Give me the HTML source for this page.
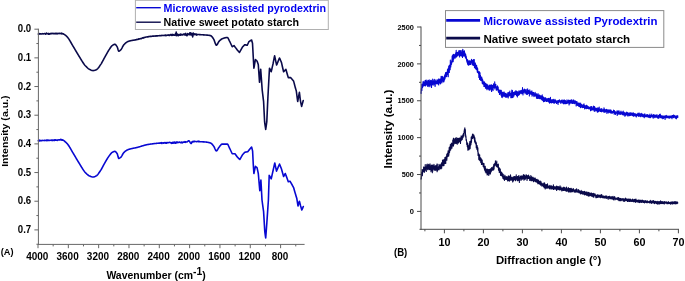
<!DOCTYPE html>
<html lang="en"><head><meta charset="utf-8"><title>FTIR and XRD of pyrodextrin and native starch</title>
<style>html,body{margin:0;padding:0;background:#fff;overflow:hidden}svg{display:block}</style></head>
<body>
<svg width="685" height="281" viewBox="0 0 685 281" font-family="'Liberation Sans', sans-serif" font-weight="bold">
<rect width="685" height="281" fill="#fff"/>
<polyline points="38.30,33.99 38.65,34.10 39.00,33.97 39.35,33.56 39.70,34.11 40.05,33.99 40.40,33.74 40.75,34.01 41.10,33.95 41.45,33.93 41.80,33.86 42.15,33.98 42.50,33.66 42.85,33.79 43.20,33.71 43.55,33.97 43.90,33.83 44.25,33.74 44.60,33.61 44.95,33.74 45.00,33.80 45.30,33.73 45.65,34.11 46.00,34.03 46.35,33.10 46.70,33.30 47.05,33.72 47.40,33.65 47.75,33.80 48.10,33.79 48.45,34.26 48.80,33.45 49.15,33.62 49.50,34.22 49.85,33.86 50.20,33.86 50.55,33.56 50.90,33.27 51.25,33.71 51.60,33.69 51.95,33.35 52.30,33.48 52.65,33.63 53.00,33.40 53.35,33.61 53.70,33.65 54.05,33.63 54.40,33.48 54.75,33.75 55.00,33.82 55.10,33.68 55.45,33.39 55.80,33.77 56.15,33.45 56.50,33.79 56.85,33.30 57.20,33.79 57.55,33.55 57.90,33.23 58.25,33.46 58.60,33.55 58.95,33.60 59.30,33.28 59.65,33.24 60.00,33.56 60.35,33.39 60.70,33.56 61.05,33.69 61.40,33.09 61.75,33.56 62.00,33.81 62.10,33.50 62.45,33.56 62.80,33.67 63.15,33.82 63.50,34.00 63.85,34.21 64.20,34.42 64.50,34.60 64.55,34.63 64.90,34.85 65.25,35.10 65.60,35.37 65.95,35.66 66.30,35.98 66.65,36.32 67.00,36.67 67.35,37.05 67.40,37.10 67.70,37.44 68.05,37.88 68.40,38.36 68.75,38.87 69.10,39.41 69.45,39.98 69.80,40.56 70.15,41.16 70.50,41.77 70.85,42.39 71.20,43.01 71.55,43.63 71.90,44.25 72.25,44.85 72.60,45.44 72.70,45.60 72.95,46.01 73.30,46.59 73.65,47.17 74.00,47.76 74.35,48.35 74.70,48.95 75.05,49.54 75.40,50.14 75.75,50.74 76.10,51.33 76.45,51.93 76.80,52.52 77.15,53.11 77.50,53.70 77.85,54.28 78.20,54.85 78.55,55.42 78.90,55.98 79.10,56.30 79.25,56.54 79.60,57.10 79.95,57.67 80.30,58.25 80.65,58.82 81.00,59.40 81.35,59.98 81.70,60.55 82.05,61.12 82.40,61.68 82.75,62.23 83.10,62.76 83.45,63.28 83.80,63.78 84.15,64.27 84.50,64.73 84.85,65.16 85.20,65.57 85.50,65.90 85.55,65.95 85.90,66.32 86.25,66.68 86.60,67.03 86.95,67.37 87.30,67.70 87.65,68.01 88.00,68.31 88.35,68.59 88.70,68.84 89.05,69.08 89.40,69.29 89.75,69.48 89.80,69.50 90.10,69.64 90.45,69.81 90.80,69.98 91.15,70.14 91.50,70.28 91.85,70.40 92.20,70.50 92.55,70.57 92.90,70.60 93.00,70.60 93.25,70.59 93.60,70.56 93.95,70.51 94.30,70.44 94.65,70.35 95.00,70.24 95.35,70.12 95.70,69.99 96.05,69.86 96.20,69.80 96.40,69.71 96.75,69.49 97.10,69.22 97.45,68.89 97.80,68.51 98.15,68.09 98.50,67.64 98.85,67.17 99.20,66.67 99.55,66.17 99.90,65.66 100.25,65.15 100.50,64.80 100.60,64.66 100.95,64.14 101.30,63.58 101.65,62.99 102.00,62.38 102.35,61.74 102.70,61.10 103.05,60.44 103.40,59.78 103.75,59.13 104.10,58.48 104.45,57.84 104.70,57.40 104.80,57.22 105.15,56.60 105.50,55.97 105.85,55.34 106.20,54.70 106.55,54.06 106.90,53.43 107.25,52.80 107.60,52.19 107.95,51.59 108.30,51.00 108.65,50.44 109.00,49.90 109.00,49.90 109.35,49.36 109.70,48.81 110.05,48.27 110.40,47.73 110.75,47.22 111.10,46.74 111.45,46.31 111.80,45.94 112.15,45.64 112.20,45.60 112.50,45.38 112.85,45.13 113.20,44.90 113.55,44.69 113.90,44.51 114.25,44.38 114.60,44.31 114.80,44.30 114.95,44.32 115.30,44.46 115.65,44.74 116.00,45.12 116.35,45.58 116.70,46.09 117.05,46.62 117.10,46.70 117.40,47.38 117.75,48.55 118.10,49.80 118.45,50.79 118.80,51.20 118.80,51.20 119.15,51.13 119.50,50.95 119.85,50.69 120.20,50.37 120.55,50.04 120.70,49.90 120.90,49.69 121.25,49.23 121.60,48.68 121.95,48.06 122.30,47.40 122.65,46.73 123.00,46.08 123.35,45.48 123.70,44.96 124.00,44.60 124.05,44.55 124.40,44.19 124.75,43.84 125.10,43.50 125.45,43.18 125.80,42.88 126.15,42.59 126.50,42.33 126.85,42.09 127.20,41.87 127.55,41.68 127.90,41.52 128.20,41.40 128.25,41.38 128.60,41.26 128.95,41.16 129.30,41.05 129.65,40.96 130.00,40.87 130.35,40.79 130.70,40.71 131.05,40.63 131.40,40.56 131.75,40.50 132.10,40.43 132.45,40.37 132.80,40.32 133.15,40.26 133.50,40.20 133.85,40.14 134.20,40.09 134.55,40.03 134.90,39.97 135.25,39.91 135.60,39.85 135.95,39.78 136.30,39.61 136.65,39.64 136.80,39.41 137.00,39.57 137.35,39.42 137.70,39.53 138.05,39.41 138.40,38.88 138.75,39.12 139.10,38.82 139.45,39.06 139.80,38.84 140.15,38.79 140.50,38.50 140.85,38.74 141.20,38.67 141.55,38.19 141.90,38.27 142.25,38.04 142.60,38.02 142.95,37.77 143.30,38.05 143.65,37.61 144.00,37.60 144.35,37.60 144.70,37.37 145.05,37.34 145.40,37.21 145.75,37.18 146.10,36.98 146.45,36.99 146.80,36.95 147.15,36.87 147.50,36.86 147.85,36.76 148.20,36.83 148.50,36.66 148.55,36.68 148.90,36.57 149.25,36.54 149.60,36.41 149.95,36.59 150.30,36.35 150.65,36.36 151.00,36.45 151.35,36.42 151.70,36.29 152.05,36.06 152.40,36.32 152.75,36.27 153.10,36.04 153.45,36.27 153.80,36.06 154.15,35.98 154.50,36.10 154.85,36.04 155.20,36.06 155.55,35.81 155.90,36.20 156.25,35.88 156.60,35.74 156.95,35.98 157.30,35.83 157.65,35.89 158.00,35.79 158.35,35.80 158.70,35.81 159.05,35.67 159.40,35.81 159.75,35.65 160.10,35.58 160.45,35.67 160.80,35.69 161.15,35.59 161.40,35.50 161.50,35.67 161.85,35.36 162.20,35.42 162.55,35.53 162.90,35.34 163.25,35.48 163.60,35.45 163.95,35.54 164.30,35.31 164.65,35.32 165.00,35.41 165.35,35.06 165.70,35.70 166.05,35.23 166.40,35.20 166.75,35.37 167.10,35.25 167.45,35.02 167.80,35.29 168.15,35.07 168.50,34.85 168.85,35.46 169.20,35.24 169.55,35.48 169.90,34.96 170.25,34.49 170.60,35.02 170.95,34.87 171.30,35.34 171.65,35.09 172.00,34.35 172.35,34.51 172.70,35.32 173.05,35.22 173.40,34.68 173.75,34.92 174.10,35.08 174.20,35.09 174.45,35.24 174.80,34.98 175.15,34.82 175.50,33.68 175.85,35.39 176.20,31.99 176.55,34.74 176.90,35.60 177.25,33.98 177.60,34.31 177.95,34.67 178.30,35.68 178.65,34.64 179.00,34.94 179.35,35.15 179.70,34.80 180.05,34.28 180.40,34.00 180.75,35.30 181.10,34.53 181.45,34.29 181.80,34.60 182.15,34.45 182.50,34.86 182.85,34.52 183.20,34.49 183.55,34.19 183.90,34.65 184.25,34.03 184.60,34.70 184.95,35.03 185.30,33.80 185.65,33.41 186.00,34.63 186.35,35.39 186.70,34.56 187.05,35.63 187.40,34.77 187.75,33.47 188.10,34.02 188.45,34.12 188.80,34.63 189.15,34.13 189.50,34.58 189.85,32.73 190.20,34.71 190.55,33.66 190.90,32.86 191.20,34.88 191.25,35.04 191.60,34.31 191.95,35.03 192.30,33.45 192.65,36.87 193.00,35.31 193.35,33.13 193.70,34.24 194.05,34.51 194.40,34.47 194.75,33.90 195.10,34.71 195.45,34.15 195.80,33.98 196.15,34.06 196.50,34.28 196.85,35.10 197.20,34.47 197.55,34.49 197.90,34.51 198.25,34.53 198.60,34.55 198.95,34.57 199.30,34.59 199.65,34.61 200.00,34.63 200.35,34.65 200.70,34.68 201.05,34.70 201.40,34.72 201.75,34.75 202.10,34.77 202.45,34.79 202.80,34.82 203.15,34.84 203.50,34.87 203.85,34.89 204.00,34.90 204.20,34.91 204.55,34.94 204.90,34.96 205.25,34.98 205.60,35.00 205.95,35.03 206.30,35.05 206.65,35.08 207.00,35.11 207.35,35.14 207.70,35.17 208.05,35.21 208.40,35.25 208.75,35.30 209.10,35.35 209.45,35.40 209.80,35.46 210.15,35.53 210.50,35.60 210.50,35.60 210.85,35.73 211.20,35.95 211.55,36.26 211.90,36.64 212.25,37.08 212.60,37.56 212.95,38.07 213.30,38.59 213.65,39.12 213.70,39.20 214.00,39.76 214.35,40.64 214.70,41.66 215.05,42.71 215.40,43.69 215.75,44.50 216.10,45.04 216.40,45.20 216.45,45.20 216.80,45.01 217.15,44.60 217.50,44.02 217.85,43.35 218.20,42.66 218.55,42.03 218.90,41.51 219.00,41.40 219.25,41.14 219.60,40.78 219.95,40.43 220.30,40.10 220.65,39.79 221.00,39.51 221.35,39.26 221.70,39.04 222.05,38.86 222.20,38.80 222.40,38.72 222.75,38.59 223.10,38.46 223.45,38.33 223.80,38.21 224.15,38.09 224.50,37.99 224.85,37.89 225.20,37.80 225.55,37.72 225.90,37.65 226.25,37.61 226.60,37.57 226.95,37.54 227.30,37.52 227.50,37.50 227.65,37.62 228.00,38.09 228.35,38.73 228.70,39.44 229.05,40.16 229.40,40.85 229.70,41.40 229.75,41.51 230.10,42.25 230.45,43.01 230.80,43.77 231.15,44.53 231.50,45.28 231.85,46.00 232.20,46.70 232.20,46.70 232.55,46.49 232.90,46.28 233.25,46.05 233.60,45.84 233.95,45.63 234.00,45.60 234.30,45.98 234.65,46.43 235.00,46.90 235.35,47.37 235.70,47.85 236.05,48.33 236.40,48.81 236.75,49.29 237.10,49.77 237.20,49.90 237.45,50.18 237.80,50.57 238.15,50.96 238.50,51.34 238.85,51.72 239.20,52.09 239.50,52.40 239.55,52.32 239.90,51.72 240.25,51.10 240.60,50.47 240.95,49.83 241.30,49.18 241.65,48.54 242.00,47.90 242.35,47.27 242.50,47.00 242.70,46.80 243.05,46.44 243.40,46.08 243.75,45.72 244.10,45.37 244.45,45.03 244.80,44.70 244.80,44.70 245.15,44.78 245.50,44.87 245.85,44.96 246.20,45.05 246.55,45.14 246.90,45.23 247.20,45.30 247.25,45.20 247.60,44.49 247.95,43.74 248.30,42.97 248.65,42.22 248.90,41.70 249.00,41.63 249.35,41.40 249.70,41.18 250.05,40.95 250.40,40.73 250.75,40.51 251.10,40.30 251.45,40.09 251.60,40.00 251.80,40.67 252.15,41.91 252.50,43.20 252.50,43.20 252.85,49.52 253.20,56.00 253.20,56.00 253.55,62.22 253.90,68.20 253.90,68.20 254.25,66.26 254.60,64.20 254.95,62.12 255.30,60.14 255.40,59.60 255.65,59.81 256.00,60.10 256.35,60.41 256.70,60.73 257.00,61.00 257.05,61.14 257.40,62.10 257.75,63.09 258.10,64.11 258.30,64.70 258.45,66.83 258.80,72.04 259.15,77.32 259.50,82.30 259.50,82.30 259.85,78.63 260.20,74.73 260.55,70.93 260.70,69.40 260.90,71.99 261.25,76.75 261.60,81.66 261.95,86.58 262.20,90.00 262.30,90.85 262.65,93.76 263.00,96.65 263.35,99.57 263.60,101.70 263.70,103.66 264.05,110.70 264.40,117.78 264.60,121.70 264.75,122.79 265.10,125.31 265.45,127.75 265.70,129.40 265.80,128.75 266.15,126.37 266.50,123.88 266.80,121.70 266.85,120.63 267.20,112.91 267.55,105.04 267.70,101.70 267.90,97.79 268.25,90.97 268.30,90.00 268.60,84.46 268.95,77.95 269.30,71.63 269.50,68.20 269.65,68.49 270.00,69.21 270.35,69.95 270.70,70.69 271.05,71.41 271.20,71.70 271.40,70.90 271.75,69.44 272.10,67.93 272.45,66.40 272.80,64.87 273.00,64.00 273.15,63.23 273.50,61.40 273.85,59.56 274.20,57.76 274.55,56.04 274.60,55.80 274.90,57.11 275.25,58.73 275.60,60.40 275.95,62.07 276.30,63.69 276.60,65.00 276.65,64.89 277.00,64.08 277.35,63.24 277.70,62.38 278.05,61.50 278.40,60.62 278.75,59.76 279.10,58.92 279.45,58.11 279.50,58.00 279.80,58.64 280.15,59.41 280.50,60.21 280.85,61.02 281.20,61.84 281.40,62.30 281.55,62.93 281.90,64.43 282.25,65.97 282.60,67.50 282.95,69.02 283.30,70.49 283.60,71.70 283.65,71.65 284.00,71.32 284.35,70.96 284.70,70.60 285.05,70.24 285.40,69.88 285.75,69.54 285.90,69.40 286.10,70.04 286.45,71.22 286.80,72.44 287.15,73.68 287.50,74.92 287.85,76.12 288.20,77.28 288.30,77.60 288.55,77.60 288.90,77.60 289.25,77.60 289.60,77.60 289.95,77.60 290.30,77.60 290.60,77.60 290.65,77.65 291.00,78.04 291.35,78.43 291.70,78.83 292.05,79.23 292.40,79.65 292.75,80.07 293.10,80.49 293.45,80.92 293.60,81.10 293.80,81.84 294.15,83.17 294.50,84.51 294.85,85.87 295.20,87.22 295.30,87.60 295.55,88.45 295.90,89.63 296.25,90.83 296.30,91.00 296.60,93.24 296.95,95.93 297.30,98.60 297.65,101.15 297.70,101.50 298.00,99.96 298.35,98.06 298.70,96.12 299.05,94.20 299.40,92.40 299.40,92.40 299.75,95.19 300.10,98.12 300.40,100.60 300.45,100.85 300.80,102.59 301.15,104.30 301.50,105.95 301.60,106.40 301.85,105.56 302.20,104.35 302.55,103.09 302.90,101.78 303.20,100.60" fill="none" stroke="#0a0a4a" stroke-width="1.6" stroke-linejoin="round" stroke-linecap="round"/>
<polyline points="38.30,140.74 38.65,140.58 39.00,140.58 39.35,140.16 39.70,140.99 40.05,140.84 40.40,140.53 40.75,140.73 41.10,140.62 41.45,140.44 41.80,140.73 42.15,140.45 42.50,140.43 42.85,140.33 43.20,140.56 43.55,140.44 43.90,140.55 44.25,140.31 44.60,140.44 44.95,140.22 45.00,140.57 45.30,140.43 45.65,140.44 46.00,140.45 46.35,140.15 46.70,140.50 47.05,140.74 47.40,139.99 47.75,139.97 48.10,140.00 48.45,140.46 48.80,140.31 49.15,140.49 49.50,140.41 49.85,140.30 50.20,140.30 50.55,140.20 50.90,140.40 51.25,139.99 51.60,140.12 51.95,140.24 52.30,140.55 52.65,140.02 53.00,139.95 53.35,140.04 53.70,140.34 54.05,140.09 54.40,140.39 54.75,139.73 55.00,140.33 55.10,140.30 55.45,139.80 55.80,140.10 56.15,140.29 56.50,140.05 56.85,140.21 57.20,140.47 57.55,140.03 57.90,139.90 58.25,139.78 58.60,140.04 58.95,139.86 59.30,139.84 59.65,139.84 60.00,139.97 60.35,139.62 60.70,139.51 61.05,139.32 61.40,140.04 61.75,139.82 62.00,140.10 62.10,139.80 62.45,139.87 62.80,140.02 63.15,140.22 63.50,140.46 63.85,140.72 64.20,140.98 64.50,141.20 64.55,141.23 64.90,141.49 65.25,141.77 65.60,142.07 65.95,142.39 66.30,142.72 66.65,143.08 67.00,143.45 67.35,143.84 67.40,143.90 67.70,144.26 68.05,144.71 68.40,145.20 68.75,145.72 69.10,146.26 69.45,146.82 69.80,147.40 70.15,148.00 70.50,148.60 70.85,149.22 71.20,149.83 71.55,150.44 71.90,151.05 72.25,151.65 72.60,152.24 72.70,152.40 72.95,152.81 73.30,153.39 73.65,153.97 74.00,154.56 74.35,155.15 74.70,155.75 75.05,156.34 75.40,156.94 75.75,157.54 76.10,158.13 76.45,158.73 76.80,159.32 77.15,159.91 77.50,160.50 77.85,161.08 78.20,161.65 78.55,162.22 78.90,162.78 79.10,163.10 79.25,163.34 79.60,163.90 79.95,164.47 80.30,165.05 80.65,165.64 81.00,166.22 81.35,166.80 81.70,167.38 82.05,167.95 82.40,168.51 82.75,169.06 83.10,169.60 83.45,170.12 83.80,170.62 84.15,171.10 84.50,171.56 84.85,171.98 85.20,172.38 85.50,172.70 85.55,172.75 85.90,173.10 86.25,173.45 86.60,173.79 86.95,174.11 87.30,174.43 87.65,174.73 88.00,175.01 88.35,175.27 88.70,175.51 89.05,175.73 89.40,175.92 89.75,176.08 89.80,176.10 90.10,176.22 90.45,176.36 90.80,176.50 91.15,176.63 91.50,176.74 91.85,176.84 92.20,176.92 92.55,176.97 92.90,177.00 93.00,177.00 93.25,176.99 93.60,176.95 93.95,176.87 94.30,176.77 94.65,176.64 95.00,176.49 95.35,176.33 95.70,176.16 96.05,175.98 96.20,175.90 96.40,175.78 96.75,175.53 97.10,175.22 97.45,174.86 97.80,174.46 98.15,174.02 98.50,173.55 98.85,173.05 99.20,172.54 99.55,172.02 99.90,171.49 100.25,170.97 100.50,170.60 100.60,170.45 100.95,169.91 101.30,169.33 101.65,168.73 102.00,168.10 102.35,167.45 102.70,166.79 103.05,166.12 103.40,165.46 103.75,164.80 104.10,164.16 104.45,163.53 104.70,163.10 104.80,162.93 105.15,162.33 105.50,161.72 105.85,161.12 106.20,160.51 106.55,159.91 106.90,159.32 107.25,158.74 107.60,158.17 107.95,157.62 108.30,157.09 108.65,156.58 109.00,156.10 109.00,156.10 109.35,155.62 109.70,155.14 110.05,154.66 110.40,154.20 110.75,153.75 111.10,153.35 111.45,152.98 111.80,152.67 112.15,152.43 112.20,152.40 112.50,152.23 112.85,152.04 113.20,151.86 113.55,151.69 113.90,151.56 114.25,151.46 114.60,151.41 114.80,151.40 114.95,151.41 115.30,151.53 115.65,151.77 116.00,152.09 116.35,152.49 116.70,152.94 117.05,153.43 117.10,153.50 117.40,154.19 117.75,155.45 118.10,156.83 118.45,157.94 118.80,158.40 118.80,158.40 119.15,158.34 119.50,158.19 119.85,157.97 120.20,157.71 120.55,157.42 120.70,157.30 120.90,157.12 121.25,156.70 121.60,156.19 121.95,155.61 122.30,154.99 122.65,154.37 123.00,153.76 123.35,153.20 123.70,152.73 124.00,152.40 124.05,152.35 124.40,152.04 124.75,151.73 125.10,151.44 125.45,151.17 125.80,150.92 126.15,150.67 126.50,150.45 126.85,150.24 127.20,150.05 127.55,149.88 127.90,149.72 128.20,149.60 128.25,149.58 128.60,149.45 128.95,149.33 129.30,149.22 129.65,149.11 130.00,149.01 130.35,148.92 130.70,148.83 131.05,148.74 131.40,148.66 131.75,148.58 132.10,148.50 132.45,148.43 132.80,148.35 133.15,148.28 133.50,148.21 133.85,148.14 134.20,148.07 134.55,148.00 134.90,147.93 135.25,147.86 135.60,147.78 135.95,147.70 136.30,147.62 136.65,147.54 136.80,147.50 137.00,147.45 137.35,147.36 137.70,147.26 138.05,147.17 138.40,147.07 138.75,146.97 139.10,146.87 139.45,146.76 139.80,146.66 140.15,146.56 140.50,146.45 140.85,146.35 141.20,146.24 141.55,146.13 141.90,146.03 142.25,145.92 142.60,145.82 142.95,145.72 143.30,145.62 143.65,145.52 144.00,145.42 144.35,145.32 144.70,145.23 145.05,145.13 145.40,145.04 145.75,144.96 146.10,144.87 146.45,144.79 146.80,144.72 147.15,144.64 147.50,144.57 147.85,144.51 148.20,144.45 148.50,144.40 148.55,144.39 148.90,144.34 149.25,144.29 149.60,144.23 149.95,144.18 150.30,144.13 150.65,144.08 151.00,144.03 151.35,143.98 151.70,143.93 152.05,143.89 152.40,143.84 152.75,143.79 153.10,143.75 153.45,143.71 153.80,143.66 154.15,143.62 154.50,143.58 154.85,143.54 155.20,143.50 155.55,143.46 155.90,143.43 156.25,143.39 156.60,143.36 156.95,143.32 157.30,143.29 157.65,143.26 158.00,143.23 158.35,143.20 158.70,143.17 159.05,143.14 159.40,143.12 159.75,143.10 160.10,143.07 160.45,142.83 160.80,143.17 161.15,142.99 161.40,142.62 161.50,142.73 161.85,143.51 162.20,143.07 162.55,143.07 162.90,142.85 163.25,142.71 163.60,143.18 163.95,142.86 164.30,142.66 164.65,142.83 165.00,142.59 165.35,142.91 165.70,143.18 166.05,142.58 166.40,143.25 166.75,142.61 167.10,142.85 167.45,142.54 167.80,142.72 168.15,142.79 168.50,142.64 168.85,142.55 169.20,142.55 169.55,142.50 169.90,142.26 170.25,142.65 170.60,142.84 170.95,142.98 171.30,142.89 171.65,143.42 172.00,142.77 172.35,142.53 172.70,143.22 173.05,142.33 173.40,142.92 173.75,142.33 174.10,143.09 174.20,142.28 174.45,142.95 174.80,142.13 175.15,142.40 175.50,143.20 175.85,142.42 176.20,142.96 176.55,142.50 176.90,141.71 177.25,142.45 177.60,142.71 177.95,142.72 178.30,142.27 178.65,142.30 179.00,142.29 179.35,142.03 179.70,142.25 180.05,142.39 180.40,142.61 180.75,142.78 181.10,142.13 181.45,142.52 181.80,142.21 182.15,142.95 182.50,142.29 182.85,142.43 183.20,141.98 183.55,141.99 183.90,142.27 184.25,142.07 184.60,142.26 184.95,141.66 185.30,142.29 185.65,141.79 186.00,142.02 186.35,141.98 186.70,141.94 187.00,141.90 187.05,141.89 187.40,141.70 187.75,141.37 188.10,141.03 188.45,140.77 188.70,140.70 188.80,140.71 189.15,140.94 189.50,141.38 189.85,141.93 190.20,142.51 190.55,143.03 190.90,143.39 191.20,143.50 191.25,143.49 191.60,142.90 191.95,141.98 192.30,141.50 192.30,141.50 192.65,141.50 193.00,141.85 193.35,141.45 193.70,141.73 194.05,141.23 194.40,141.60 194.75,141.34 195.10,141.43 195.45,141.54 195.80,141.48 196.15,141.60 196.50,141.71 196.85,141.70 197.20,141.56 197.55,141.32 197.90,141.44 198.25,141.58 198.60,141.20 198.95,141.79 199.30,141.61 199.65,141.62 200.00,141.69 200.35,141.70 200.70,141.72 201.05,141.74 201.40,141.75 201.75,141.77 202.10,141.79 202.45,141.81 202.80,141.83 203.15,141.85 203.50,141.87 203.85,141.89 204.00,141.90 204.20,141.91 204.55,141.94 204.90,141.96 205.25,141.99 205.60,142.03 205.95,142.07 206.30,142.11 206.65,142.15 207.00,142.20 207.35,142.26 207.70,142.32 208.05,142.38 208.40,142.45 208.75,142.53 209.10,142.61 209.45,142.70 209.80,142.79 210.15,142.89 210.50,143.00 210.50,143.00 210.85,143.15 211.20,143.37 211.55,143.66 211.90,144.00 212.25,144.38 212.60,144.80 212.95,145.23 213.30,145.68 213.65,146.14 213.70,146.20 214.00,146.66 214.35,147.37 214.70,148.16 215.05,148.98 215.40,149.74 215.75,150.37 216.10,150.78 216.40,150.90 216.45,150.90 216.80,150.73 217.15,150.35 217.50,149.83 217.85,149.21 218.20,148.56 218.55,147.95 218.90,147.42 219.00,147.30 219.25,147.00 219.60,146.54 219.95,146.07 220.30,145.61 220.65,145.17 221.00,144.78 221.35,144.46 221.70,144.23 222.05,144.11 222.20,144.10 222.40,144.10 222.75,144.10 223.10,144.10 223.45,144.10 223.80,144.10 224.15,144.10 224.50,144.10 224.85,144.10 225.20,144.10 225.55,144.10 225.90,144.10 226.25,144.10 226.60,144.10 226.95,144.10 227.30,144.10 227.50,144.10 227.65,144.23 228.00,144.76 228.35,145.47 228.70,146.25 229.05,147.04 229.40,147.79 229.70,148.40 229.75,148.51 230.10,149.26 230.45,150.01 230.80,150.78 231.15,151.53 231.50,152.28 231.85,153.00 232.20,153.70 232.20,153.70 232.55,153.70 232.90,153.70 233.25,153.70 233.60,153.70 233.95,153.70 234.30,153.70 234.65,153.70 235.00,153.70 235.00,153.70 235.35,154.18 235.70,154.68 236.05,155.20 236.40,155.72 236.75,156.24 237.10,156.76 237.20,156.90 237.45,157.15 237.80,157.51 238.15,157.87 238.50,158.23 238.85,158.58 239.20,158.93 239.55,159.27 239.80,159.50 239.90,159.34 240.25,158.76 240.60,158.16 240.95,157.54 241.30,156.92 241.65,156.29 242.00,155.67 242.35,155.06 242.50,154.80 242.70,154.58 243.05,154.19 243.40,153.80 243.75,153.42 244.10,153.04 244.45,152.66 244.80,152.30 244.80,152.30 245.15,152.22 245.50,152.15 245.85,152.08 246.20,152.01 246.55,151.94 246.90,151.87 247.25,151.80 247.60,151.72 247.70,151.70 247.95,151.41 248.30,150.98 248.65,150.55 249.00,150.12 249.35,149.68 249.50,149.50 249.70,149.26 250.05,148.83 250.40,148.41 250.75,147.98 251.10,147.57 251.45,147.17 251.60,147.00 251.80,147.75 252.15,149.13 252.50,150.58 252.60,151.00 252.85,155.93 253.20,163.00 253.20,163.00 253.55,168.37 253.90,173.50 253.90,173.50 254.25,171.90 254.60,170.20 254.95,168.48 255.30,166.84 255.40,166.40 255.65,166.58 256.00,166.83 256.35,167.09 256.70,167.36 257.00,167.60 257.05,167.81 257.40,169.35 257.75,170.94 258.10,172.56 258.30,173.50 258.45,175.17 258.80,179.21 259.15,183.32 259.50,187.34 259.80,190.60 259.85,190.15 260.20,186.80 260.55,183.31 260.90,180.00 260.90,180.00 261.25,186.17 261.60,192.69 261.95,199.11 262.00,200.00 262.30,202.24 262.65,204.78 263.00,207.29 263.35,209.84 263.60,211.70 263.70,213.33 264.05,219.17 264.40,225.09 264.75,230.89 264.80,231.70 265.10,233.87 265.45,236.33 265.70,238.00 265.80,236.77 266.15,232.24 266.50,227.53 266.80,223.50 266.85,222.77 267.20,217.64 267.55,212.51 267.90,207.37 268.00,205.90 268.25,202.23 268.40,200.00 268.60,193.84 268.95,182.78 269.20,175.30 269.30,175.46 269.65,176.06 270.00,176.69 270.35,177.32 270.70,177.95 271.05,178.55 271.20,178.80 271.40,177.98 271.75,176.48 272.10,174.94 272.45,173.36 272.80,171.78 273.15,170.22 273.20,170.00 273.50,168.67 273.85,167.10 274.20,165.54 274.55,164.03 274.80,163.00 274.90,163.44 275.25,165.08 275.60,166.80 275.95,168.53 276.30,170.20 276.50,171.10 276.65,170.77 277.00,169.99 277.35,169.17 277.70,168.33 278.05,167.48 278.40,166.63 278.75,165.80 279.10,164.99 279.45,164.21 279.50,164.10 279.80,164.79 280.15,165.63 280.50,166.49 280.85,167.37 281.20,168.25 281.50,169.00 281.55,169.18 281.90,170.43 282.25,171.71 282.60,172.99 282.95,174.26 283.30,175.49 283.60,176.50 283.65,176.42 284.00,175.82 284.35,175.18 284.70,174.54 285.05,173.92 285.30,173.50 285.40,173.75 285.75,174.67 286.10,175.63 286.45,176.61 286.80,177.60 287.15,178.59 287.50,179.57 287.85,180.53 288.20,181.45 288.30,181.70 288.55,181.63 288.90,181.53 289.25,181.42 289.60,181.31 289.95,181.21 290.00,181.20 290.30,181.70 290.65,182.29 291.00,182.89 291.35,183.51 291.70,184.13 292.05,184.76 292.40,185.40 292.75,186.04 293.10,186.68 293.45,187.33 293.60,187.60 293.80,188.28 294.15,189.49 294.50,190.71 294.85,191.93 295.20,193.15 295.30,193.50 295.55,194.33 295.90,195.49 296.25,196.65 296.60,197.82 296.80,198.50 296.95,199.42 297.30,201.62 297.65,203.82 298.00,205.90 298.00,205.90 298.35,204.76 298.70,203.55 299.05,202.34 299.40,201.20 299.40,201.20 299.75,202.52 300.10,203.91 300.45,205.31 300.60,205.90 300.80,206.59 301.15,207.82 301.50,209.02 301.80,210.00 301.85,209.89 302.20,209.13 302.55,208.33 302.90,207.50 303.25,206.63 303.30,206.50" fill="none" stroke="#0808d2" stroke-width="1.6" stroke-linejoin="round" stroke-linecap="round"/>
<polyline points="421.00,91.66 421.09,93.57 421.18,92.79 421.27,89.08 421.36,89.01 421.45,88.15 421.54,89.79 421.63,88.29 421.72,89.45 421.81,84.35 421.90,90.37 421.99,87.02 422.08,88.20 422.17,86.45 422.26,85.79 422.35,87.14 422.44,87.63 422.53,85.58 422.62,85.51 422.71,86.91 422.80,83.89 422.89,82.56 422.98,85.94 423.07,83.84 423.16,81.41 423.25,83.31 423.34,83.82 423.43,82.37 423.52,81.70 423.61,84.41 423.70,85.88 423.79,83.71 423.88,82.68 423.97,84.67 424.06,85.20 424.15,83.27 424.24,84.76 424.33,85.62 424.42,83.28 424.51,82.13 424.60,84.24 424.69,84.03 424.78,85.57 424.87,81.19 424.96,82.31 425.05,81.97 425.14,80.31 425.23,83.70 425.32,84.42 425.41,82.09 425.50,85.96 425.59,84.91 425.68,84.54 425.77,84.12 425.86,85.12 425.95,80.92 426.04,84.47 426.13,84.43 426.22,80.10 426.31,83.94 426.40,82.84 426.49,84.72 426.58,82.48 426.67,83.24 426.76,83.89 426.85,81.66 426.94,84.34 427.03,83.05 427.12,84.13 427.21,82.27 427.30,85.19 427.39,84.31 427.48,82.87 427.57,84.34 427.66,85.48 427.75,86.44 427.84,80.31 427.93,84.77 428.02,84.00 428.11,82.98 428.20,81.32 428.29,85.42 428.38,80.84 428.47,84.15 428.56,85.48 428.65,80.21 428.74,82.56 428.83,80.73 428.92,83.54 429.01,85.83 429.10,86.75 429.19,79.85 429.28,82.02 429.37,84.33 429.46,85.91 429.55,83.80 429.64,81.68 429.73,83.56 429.82,82.99 429.91,82.64 430.00,81.67 430.09,83.69 430.18,83.54 430.27,82.81 430.36,82.56 430.45,80.64 430.54,82.07 430.63,85.12 430.72,82.59 430.81,80.33 430.90,85.32 430.99,83.87 431.08,86.70 431.17,83.01 431.26,82.06 431.35,80.27 431.44,85.26 431.53,87.49 431.62,81.38 431.71,81.69 431.80,83.92 431.89,81.35 431.98,82.35 432.07,82.20 432.16,83.17 432.25,84.78 432.34,82.85 432.43,84.45 432.52,82.04 432.61,83.38 432.70,78.94 432.79,80.17 432.88,84.20 432.97,81.70 433.06,83.79 433.15,83.72 433.24,85.11 433.33,84.19 433.42,84.55 433.51,82.52 433.60,81.46 433.69,81.40 433.78,81.82 433.87,80.67 433.96,81.70 434.05,82.51 434.14,83.12 434.23,82.05 434.32,79.21 434.41,82.51 434.50,83.04 434.59,84.56 434.68,83.65 434.77,81.46 434.86,81.31 434.95,86.18 435.04,83.93 435.13,85.84 435.22,86.36 435.31,81.09 435.40,83.22 435.49,83.34 435.58,83.51 435.67,83.47 435.76,82.85 435.85,82.79 435.94,79.79 436.03,82.16 436.12,81.11 436.21,82.65 436.30,81.58 436.39,83.50 436.48,83.84 436.57,82.92 436.66,82.92 436.75,82.50 436.84,81.52 436.93,82.01 437.02,81.40 437.11,82.95 437.20,82.26 437.29,83.24 437.38,79.83 437.47,83.74 437.56,80.79 437.65,80.81 437.74,81.73 437.83,81.06 437.92,82.54 438.01,80.98 438.10,80.07 438.19,80.44 438.28,84.22 438.37,81.94 438.46,79.77 438.55,81.81 438.64,79.01 438.73,84.89 438.82,78.99 438.91,82.49 439.00,82.57 439.09,79.01 439.18,82.06 439.27,83.24 439.36,82.27 439.45,81.86 439.54,83.03 439.63,81.59 439.72,81.86 439.81,80.99 439.90,82.28 439.99,79.46 440.08,82.47 440.17,80.13 440.26,79.05 440.35,81.57 440.44,83.85 440.53,82.51 440.62,79.86 440.71,81.94 440.80,79.86 440.89,80.39 440.98,80.71 441.07,76.42 441.16,80.77 441.25,78.57 441.34,79.10 441.43,77.68 441.52,77.54 441.61,78.49 441.70,81.53 441.79,82.94 441.88,79.92 441.97,81.81 442.06,79.37 442.15,76.42 442.24,79.97 442.33,80.42 442.42,78.83 442.51,80.04 442.60,80.45 442.69,77.87 442.78,76.73 442.87,78.86 442.96,78.81 443.05,78.48 443.14,80.74 443.23,81.95 443.32,78.12 443.41,79.98 443.50,80.31 443.59,79.82 443.68,80.30 443.77,77.69 443.86,79.56 443.95,81.69 444.04,79.45 444.13,76.85 444.22,78.88 444.31,79.90 444.40,78.22 444.49,76.47 444.58,80.01 444.67,75.03 444.76,77.94 444.85,76.91 444.94,74.73 445.03,78.78 445.12,77.13 445.21,74.36 445.30,77.29 445.39,75.35 445.48,72.65 445.57,74.61 445.66,76.11 445.75,76.61 445.84,75.64 445.93,75.28 446.02,75.86 446.11,74.52 446.20,76.77 446.29,74.83 446.38,74.92 446.47,75.19 446.56,72.26 446.65,72.71 446.74,76.42 446.83,74.19 446.92,72.96 447.01,73.87 447.10,72.28 447.19,73.42 447.28,71.61 447.37,73.05 447.46,69.66 447.55,74.48 447.64,71.09 447.73,69.04 447.82,71.17 447.91,70.70 448.00,71.38 448.09,68.92 448.18,71.35 448.27,76.68 448.36,68.00 448.45,70.54 448.54,69.19 448.63,69.81 448.72,66.12 448.81,67.01 448.90,69.53 448.99,68.43 449.08,71.05 449.17,66.78 449.26,68.04 449.35,72.49 449.44,65.92 449.53,65.43 449.62,66.67 449.71,66.41 449.80,67.68 449.89,66.21 449.98,64.45 450.07,65.86 450.16,69.78 450.25,67.20 450.34,60.02 450.43,64.31 450.52,62.82 450.61,65.16 450.70,63.57 450.79,66.96 450.88,65.03 450.97,64.75 451.06,63.34 451.15,62.75 451.24,63.21 451.33,64.65 451.42,63.16 451.51,61.46 451.60,64.04 451.69,62.00 451.78,61.35 451.87,59.93 451.96,60.12 452.05,59.81 452.14,55.94 452.23,62.24 452.32,61.27 452.41,59.75 452.50,61.70 452.59,60.47 452.68,60.16 452.77,55.13 452.86,58.75 452.95,59.87 453.04,61.51 453.13,61.72 453.22,60.83 453.31,56.25 453.40,54.31 453.49,58.83 453.58,57.74 453.67,59.15 453.76,57.13 453.85,57.55 453.94,54.47 454.03,57.62 454.12,55.95 454.21,57.14 454.30,57.18 454.39,56.06 454.48,56.66 454.57,55.96 454.66,57.14 454.75,56.58 454.84,54.68 454.93,54.49 455.02,58.33 455.11,55.10 455.20,56.85 455.29,55.74 455.38,54.04 455.47,53.64 455.56,55.03 455.65,55.19 455.74,55.73 455.83,52.48 455.92,53.55 456.01,54.32 456.10,57.12 456.19,50.37 456.28,55.02 456.37,53.31 456.46,54.88 456.55,53.26 456.64,54.64 456.73,56.60 456.82,54.51 456.91,54.58 457.00,54.43 457.09,52.48 457.18,54.61 457.27,53.30 457.36,52.24 457.45,53.49 457.54,53.14 457.63,54.75 457.72,53.38 457.81,52.53 457.90,55.83 457.99,55.02 458.08,55.47 458.17,54.35 458.26,53.13 458.35,52.60 458.44,52.83 458.53,54.89 458.62,53.49 458.71,50.82 458.80,53.24 458.89,50.93 458.98,53.58 459.07,51.30 459.16,51.20 459.25,53.51 459.34,53.19 459.43,50.55 459.52,54.58 459.61,56.94 459.70,50.86 459.79,56.38 459.88,52.20 459.97,52.52 460.06,53.05 460.15,50.95 460.24,55.53 460.33,54.19 460.42,52.12 460.51,52.92 460.60,50.86 460.69,52.81 460.78,54.95 460.87,50.54 460.96,52.68 461.05,53.65 461.14,55.16 461.23,55.66 461.32,52.66 461.41,52.20 461.50,54.18 461.59,52.83 461.68,52.92 461.77,55.24 461.86,56.25 461.95,53.89 462.04,53.14 462.13,54.41 462.22,50.34 462.31,53.45 462.40,51.72 462.49,57.45 462.58,54.69 462.67,53.74 462.76,53.19 462.85,49.36 462.94,54.71 463.03,56.23 463.12,52.34 463.21,54.69 463.30,54.77 463.39,51.03 463.48,55.14 463.57,55.85 463.66,54.02 463.75,53.57 463.84,55.02 463.93,51.24 464.02,53.99 464.11,55.65 464.20,51.94 464.29,55.71 464.38,53.48 464.47,50.83 464.56,54.19 464.65,52.87 464.74,55.11 464.83,52.77 464.92,56.54 465.01,53.72 465.10,55.65 465.19,54.21 465.28,54.79 465.37,57.45 465.46,56.04 465.55,55.25 465.64,54.08 465.73,58.30 465.82,57.87 465.91,56.42 466.00,57.65 466.09,55.87 466.18,56.20 466.27,56.83 466.36,59.07 466.45,59.29 466.54,57.89 466.63,60.62 466.72,60.99 466.81,60.27 466.90,61.95 466.99,60.03 467.08,60.55 467.17,61.71 467.26,61.07 467.35,62.62 467.44,59.47 467.53,64.05 467.62,60.65 467.71,61.85 467.80,60.06 467.89,63.47 467.98,64.74 468.07,64.56 468.16,64.32 468.25,60.54 468.34,61.90 468.43,62.49 468.52,61.77 468.61,65.13 468.70,63.60 468.79,63.25 468.88,64.06 468.97,61.70 469.06,61.74 469.15,61.75 469.24,63.96 469.33,63.66 469.42,64.00 469.51,64.76 469.60,60.76 469.69,62.00 469.78,63.09 469.87,60.61 469.96,61.88 470.05,64.33 470.14,64.41 470.23,64.31 470.32,62.58 470.41,62.11 470.50,64.14 470.59,61.74 470.68,62.84 470.77,64.39 470.86,61.60 470.95,61.17 471.04,62.10 471.13,63.05 471.22,62.84 471.31,62.29 471.40,62.91 471.49,59.42 471.58,60.61 471.67,62.27 471.76,60.51 471.85,59.86 471.94,60.10 472.03,60.59 472.12,61.82 472.21,60.50 472.30,62.56 472.39,64.96 472.48,62.04 472.57,64.39 472.66,62.85 472.75,60.65 472.84,62.10 472.93,61.00 473.02,63.87 473.11,60.85 473.20,64.90 473.29,63.77 473.38,59.66 473.47,64.24 473.56,65.54 473.65,61.85 473.74,64.78 473.83,60.40 473.92,63.78 474.01,60.81 474.10,64.34 474.19,60.81 474.28,59.57 474.37,64.53 474.46,67.67 474.55,63.18 474.64,65.59 474.73,64.56 474.82,64.00 474.91,65.64 475.00,67.42 475.09,62.96 475.18,65.98 475.27,65.77 475.36,63.10 475.45,68.10 475.54,68.78 475.63,64.31 475.72,68.75 475.81,66.23 475.90,66.04 475.99,68.86 476.08,67.00 476.17,67.33 476.26,69.43 476.35,69.26 476.44,68.83 476.53,65.40 476.62,65.34 476.71,69.86 476.80,66.82 476.89,68.77 476.98,67.07 477.07,68.72 477.16,67.23 477.25,72.10 477.34,68.15 477.43,69.82 477.52,69.98 477.61,72.44 477.70,68.54 477.79,70.99 477.88,70.97 477.97,72.40 478.06,72.56 478.15,71.34 478.24,72.70 478.33,71.98 478.42,73.56 478.51,72.90 478.60,72.26 478.69,73.49 478.78,74.34 478.87,77.57 478.96,73.43 479.05,74.90 479.14,76.94 479.23,71.56 479.32,72.31 479.41,73.40 479.50,75.31 479.59,79.55 479.68,76.53 479.77,78.03 479.86,75.98 479.95,72.66 480.04,73.10 480.13,78.55 480.22,77.44 480.31,75.31 480.40,79.30 480.49,75.32 480.58,79.71 480.67,80.39 480.76,77.09 480.85,76.73 480.94,79.96 481.03,77.08 481.12,80.32 481.21,77.24 481.30,80.53 481.39,79.56 481.48,78.88 481.57,78.29 481.66,80.21 481.75,77.00 481.84,79.67 481.93,79.61 482.02,81.42 482.11,78.52 482.20,83.28 482.29,80.24 482.38,79.06 482.47,83.13 482.56,83.68 482.65,80.90 482.74,79.91 482.83,81.44 482.92,80.45 483.01,81.16 483.10,84.18 483.19,82.48 483.28,82.20 483.37,82.63 483.46,82.11 483.55,83.63 483.64,83.80 483.73,81.98 483.82,82.84 483.91,86.55 484.00,83.58 484.09,82.76 484.18,86.36 484.27,83.31 484.36,81.72 484.45,84.60 484.54,82.29 484.63,83.04 484.72,84.45 484.81,83.87 484.90,83.02 484.99,83.48 485.08,83.54 485.17,86.40 485.26,83.60 485.35,83.96 485.44,88.13 485.53,84.24 485.62,87.53 485.71,87.38 485.80,85.23 485.89,83.39 485.98,86.40 486.07,86.86 486.16,87.43 486.25,86.16 486.34,88.02 486.43,88.41 486.52,84.75 486.61,88.68 486.70,86.85 486.79,85.80 486.88,86.28 486.97,89.75 487.06,88.46 487.15,84.28 487.24,87.24 487.33,86.97 487.42,86.99 487.51,86.54 487.60,85.16 487.69,88.78 487.78,86.07 487.87,87.00 487.96,86.69 488.05,86.54 488.14,88.83 488.23,88.31 488.32,86.72 488.41,86.33 488.50,87.07 488.59,89.27 488.68,87.99 488.77,88.16 488.86,87.30 488.95,87.41 489.04,88.13 489.13,84.99 489.22,90.25 489.31,86.60 489.40,86.93 489.49,89.83 489.58,88.13 489.67,87.85 489.76,86.90 489.85,85.41 489.94,88.06 490.03,89.59 490.12,86.41 490.21,89.83 490.30,86.05 490.39,86.65 490.48,88.52 490.57,87.75 490.66,88.79 490.75,86.62 490.84,86.17 490.93,84.91 491.02,85.90 491.11,86.09 491.20,85.56 491.29,88.17 491.38,86.70 491.47,84.69 491.56,91.43 491.65,86.42 491.74,85.78 491.83,89.53 491.92,89.41 492.01,85.91 492.10,85.42 492.19,86.13 492.28,89.32 492.37,87.15 492.46,86.39 492.55,87.55 492.64,89.38 492.73,85.46 492.82,86.93 492.91,85.38 493.00,90.65 493.09,90.06 493.18,88.69 493.27,86.99 493.36,88.09 493.45,83.88 493.54,87.35 493.63,84.85 493.72,84.77 493.81,85.61 493.90,86.04 493.99,87.33 494.08,87.42 494.17,86.68 494.26,84.79 494.35,87.12 494.44,85.85 494.53,87.71 494.62,84.52 494.71,81.71 494.80,85.05 494.89,88.91 494.98,86.37 495.07,85.35 495.16,86.92 495.25,86.35 495.34,86.29 495.43,84.86 495.52,85.76 495.61,86.00 495.70,84.81 495.79,84.18 495.88,86.13 495.97,87.45 496.06,87.09 496.15,86.98 496.24,87.12 496.33,90.31 496.42,87.02 496.51,88.31 496.60,89.80 496.69,87.14 496.78,87.60 496.87,88.89 496.96,89.98 497.05,88.09 497.14,88.30 497.23,88.04 497.32,86.26 497.41,89.80 497.50,87.92 497.59,85.91 497.68,88.37 497.77,86.20 497.86,87.42 497.95,89.08 498.04,87.87 498.13,90.94 498.22,87.39 498.31,90.09 498.40,90.68 498.49,92.16 498.58,91.52 498.67,90.67 498.76,90.59 498.85,90.53 498.94,92.41 499.03,89.92 499.12,91.76 499.21,90.98 499.30,91.56 499.39,90.93 499.48,94.51 499.57,90.55 499.66,91.97 499.75,92.10 499.84,92.68 499.93,92.55 500.02,92.61 500.11,93.51 500.20,90.00 500.29,92.29 500.38,90.59 500.47,92.81 500.56,90.85 500.65,91.27 500.74,92.66 500.83,94.86 500.92,93.77 501.01,93.45 501.10,95.14 501.19,91.84 501.28,90.27 501.37,92.77 501.46,93.06 501.55,95.32 501.64,96.71 501.73,91.79 501.82,97.35 501.91,96.12 502.00,95.15 502.09,94.55 502.18,97.58 502.27,94.28 502.36,93.55 502.45,94.50 502.54,92.40 502.63,95.11 502.72,94.34 502.81,95.03 502.90,95.13 502.99,93.15 503.08,96.60 503.17,93.32 503.26,96.09 503.35,92.59 503.44,95.44 503.53,93.78 503.62,95.05 503.71,94.10 503.80,91.95 503.89,93.50 503.98,95.21 504.07,96.03 504.16,93.07 504.25,92.16 504.34,93.95 504.43,94.91 504.52,94.32 504.61,94.07 504.70,96.43 504.79,96.59 504.88,96.27 504.97,93.89 505.06,95.33 505.15,94.94 505.24,93.19 505.33,96.46 505.42,95.33 505.51,94.52 505.60,97.21 505.69,96.28 505.78,96.41 505.87,96.89 505.96,96.20 506.05,93.40 506.14,94.63 506.23,96.59 506.32,94.08 506.41,95.21 506.50,95.71 506.59,97.18 506.68,96.97 506.77,96.40 506.86,94.86 506.95,96.40 507.04,95.85 507.13,94.88 507.22,97.00 507.31,95.78 507.40,94.02 507.49,96.84 507.58,94.70 507.67,95.88 507.76,92.91 507.85,95.00 507.94,93.70 508.03,93.65 508.12,92.33 508.21,97.98 508.30,94.77 508.39,95.30 508.48,96.50 508.57,94.78 508.66,95.65 508.75,93.03 508.84,95.19 508.93,94.32 509.02,95.59 509.11,95.13 509.20,92.94 509.29,92.28 509.38,93.43 509.47,95.85 509.56,95.41 509.65,95.37 509.74,92.00 509.83,91.06 509.92,93.91 510.01,94.30 510.10,93.91 510.19,95.22 510.28,94.48 510.37,93.07 510.46,93.48 510.55,94.88 510.64,94.77 510.73,94.55 510.82,97.77 510.91,94.27 511.00,94.78 511.09,93.23 511.18,94.10 511.27,95.30 511.36,95.35 511.45,94.34 511.54,95.08 511.63,94.60 511.72,91.92 511.81,90.00 511.90,97.64 511.99,95.60 512.08,94.36 512.17,92.04 512.26,92.66 512.35,96.24 512.44,90.56 512.53,93.91 512.62,95.52 512.71,94.51 512.80,95.32 512.89,94.09 512.98,97.52 513.07,92.83 513.16,92.36 513.25,94.57 513.34,96.12 513.43,94.07 513.52,95.55 513.61,93.38 513.70,92.47 513.79,95.96 513.88,96.17 513.97,96.10 514.06,93.40 514.15,92.40 514.24,92.36 514.33,93.62 514.42,94.69 514.51,94.57 514.60,91.91 514.69,94.09 514.78,93.83 514.87,93.90 514.96,93.72 515.05,93.46 515.14,94.51 515.23,93.86 515.32,93.96 515.41,92.70 515.50,94.15 515.59,93.42 515.68,90.72 515.77,94.19 515.86,93.16 515.95,94.74 516.04,93.25 516.13,93.32 516.22,93.70 516.31,93.38 516.40,92.77 516.49,90.95 516.58,95.80 516.67,91.19 516.76,92.82 516.85,94.13 516.94,93.74 517.03,93.97 517.12,94.22 517.21,94.86 517.30,93.54 517.39,97.01 517.48,91.75 517.57,93.39 517.66,92.58 517.75,92.31 517.84,93.40 517.93,94.93 518.02,92.02 518.11,92.00 518.20,93.88 518.29,93.62 518.38,95.47 518.47,94.21 518.56,93.12 518.65,92.35 518.74,93.05 518.83,92.50 518.92,90.90 519.01,92.69 519.10,92.42 519.19,92.32 519.28,92.03 519.37,94.80 519.46,93.46 519.55,93.75 519.64,91.68 519.73,91.11 519.82,92.06 519.91,92.72 520.00,91.92 520.09,92.10 520.18,93.58 520.27,92.69 520.36,90.97 520.45,91.67 520.54,91.35 520.63,92.42 520.72,90.62 520.81,91.90 520.90,93.01 520.99,92.12 521.08,90.86 521.17,91.22 521.26,92.17 521.35,92.61 521.44,93.05 521.53,91.75 521.62,90.19 521.71,93.75 521.80,92.26 521.89,92.38 521.98,92.23 522.07,90.46 522.16,91.38 522.25,92.11 522.34,93.10 522.43,91.82 522.52,87.67 522.61,91.40 522.70,92.15 522.79,93.36 522.88,92.59 522.97,94.89 523.06,93.50 523.15,93.39 523.24,92.85 523.33,89.83 523.42,92.71 523.51,92.39 523.60,90.93 523.69,92.36 523.78,92.14 523.87,91.00 523.96,91.44 524.05,91.26 524.14,91.90 524.23,91.06 524.32,92.31 524.41,89.15 524.50,91.26 524.59,89.46 524.68,91.02 524.77,92.31 524.86,91.68 524.95,91.52 525.04,91.77 525.13,93.70 525.22,90.28 525.31,92.85 525.40,89.79 525.49,91.15 525.58,91.97 525.67,90.69 525.76,92.06 525.85,92.75 525.94,90.31 526.03,91.75 526.12,91.39 526.21,89.42 526.30,91.67 526.39,90.92 526.48,93.66 526.57,90.86 526.66,94.16 526.75,91.35 526.84,94.51 526.93,92.76 527.02,92.67 527.11,93.15 527.20,93.29 527.29,93.95 527.38,94.40 527.47,91.79 527.56,90.67 527.65,88.90 527.74,91.82 527.83,93.30 527.92,92.84 528.01,92.54 528.10,91.98 528.19,91.64 528.28,92.12 528.37,92.99 528.46,90.31 528.55,93.48 528.64,90.75 528.73,92.42 528.82,91.85 528.91,92.21 529.00,91.38 529.09,91.28 529.18,92.47 529.27,91.42 529.36,95.90 529.45,92.32 529.54,92.04 529.63,92.20 529.72,91.58 529.81,89.87 529.90,92.65 529.99,93.39 530.08,91.15 530.17,93.06 530.26,91.57 530.35,93.06 530.44,93.58 530.53,93.76 530.62,93.73 530.71,92.33 530.80,94.33 530.89,92.71 530.98,93.73 531.07,94.19 531.16,92.97 531.25,91.78 531.34,94.16 531.43,92.04 531.52,92.35 531.61,92.12 531.70,94.56 531.79,93.34 531.88,90.79 531.97,94.51 532.06,96.20 532.15,95.89 532.24,92.99 532.33,93.82 532.42,94.39 532.51,94.89 532.60,93.86 532.69,92.50 532.78,94.81 532.87,94.68 532.96,92.31 533.05,93.53 533.14,94.35 533.23,94.05 533.32,94.73 533.41,95.10 533.50,94.82 533.59,94.05 533.68,92.57 533.77,95.01 533.86,96.01 533.95,96.75 534.04,94.33 534.13,94.36 534.22,96.21 534.31,96.24 534.40,94.94 534.49,95.43 534.58,93.67 534.67,95.35 534.76,93.67 534.85,94.54 534.94,94.61 535.03,94.23 535.12,92.27 535.21,93.88 535.30,95.33 535.39,94.90 535.48,94.55 535.57,95.60 535.66,95.96 535.75,96.21 535.84,94.26 535.93,95.32 536.02,94.94 536.11,94.34 536.20,93.65 536.29,95.40 536.38,94.53 536.47,98.24 536.56,95.58 536.65,95.49 536.74,95.34 536.83,98.14 536.92,94.81 537.01,95.81 537.10,95.14 537.19,95.98 537.28,96.15 537.37,97.58 537.46,94.62 537.55,96.35 537.64,98.38 537.73,95.89 537.82,96.34 537.91,95.55 538.00,93.54 538.09,96.60 538.18,98.19 538.27,96.28 538.36,94.69 538.45,97.26 538.54,97.09 538.63,98.24 538.72,98.18 538.81,96.82 538.90,97.66 538.99,95.09 539.08,98.60 539.17,97.53 539.26,98.64 539.35,98.65 539.44,97.09 539.53,97.29 539.62,96.47 539.71,95.10 539.80,97.43 539.89,97.81 539.98,96.38 540.07,98.54 540.16,97.86 540.25,98.31 540.34,96.91 540.43,95.77 540.52,98.81 540.61,98.65 540.70,97.84 540.79,97.51 540.88,97.71 540.97,97.92 541.06,97.52 541.15,95.79 541.24,99.11 541.33,96.47 541.42,97.87 541.51,97.93 541.60,98.64 541.69,96.47 541.78,99.81 541.87,99.20 541.96,99.37 542.05,99.99 542.14,97.61 542.23,94.91 542.32,99.00 542.41,100.18 542.50,100.04 542.59,98.09 542.68,98.64 542.77,99.11 542.86,96.71 542.95,98.07 543.04,98.14 543.13,100.75 543.22,98.19 543.31,100.80 543.40,99.02 543.49,97.09 543.58,101.64 543.67,97.98 543.76,99.85 543.85,101.14 543.94,98.58 544.03,97.80 544.12,100.46 544.21,99.36 544.30,97.89 544.39,98.09 544.48,98.92 544.57,100.51 544.66,99.09 544.75,100.21 544.84,101.38 544.93,100.97 545.02,101.19 545.11,100.98 545.20,97.74 545.29,101.02 545.38,100.01 545.47,99.52 545.56,98.45 545.65,97.89 545.74,98.47 545.83,99.74 545.92,98.44 546.01,98.88 546.10,99.13 546.19,100.62 546.28,99.54 546.37,99.74 546.46,101.44 546.55,99.58 546.64,100.65 546.73,98.79 546.82,100.39 546.91,100.17 547.00,100.25 547.09,99.54 547.18,98.92 547.27,99.77 547.36,99.60 547.45,101.32 547.54,101.20 547.63,98.83 547.72,100.92 547.81,99.68 547.90,100.76 547.99,99.72 548.08,98.62 548.17,101.44 548.26,100.82 548.35,98.95 548.44,98.21 548.53,99.76 548.62,99.05 548.71,99.98 548.80,101.11 548.89,102.08 548.98,100.04 549.07,102.00 549.16,101.78 549.25,100.00 549.34,98.64 549.43,101.48 549.52,101.22 549.61,103.19 549.70,102.17 549.79,101.46 549.88,102.49 549.97,99.44 550.06,100.85 550.15,100.34 550.24,102.61 550.33,101.31 550.42,97.28 550.51,102.24 550.60,99.71 550.69,101.61 550.78,100.22 550.87,101.05 550.96,101.50 551.05,101.02 551.14,99.76 551.23,102.40 551.32,101.29 551.41,100.85 551.50,101.67 551.59,100.30 551.68,103.01 551.77,101.18 551.86,101.35 551.95,101.34 552.04,99.95 552.13,99.68 552.22,101.24 552.31,101.40 552.40,102.52 552.49,101.54 552.58,99.84 552.67,101.65 552.76,101.99 552.85,102.20 552.94,101.47 553.03,99.76 553.12,102.41 553.21,100.33 553.30,101.79 553.39,99.42 553.48,102.02 553.57,100.32 553.66,102.40 553.75,103.16 553.84,102.52 553.93,99.95 554.02,100.21 554.11,100.30 554.20,102.00 554.29,101.66 554.38,101.47 554.47,101.65 554.56,101.95 554.65,102.04 554.74,103.20 554.83,101.28 554.92,101.58 555.01,99.32 555.10,99.92 555.19,100.62 555.28,100.09 555.37,101.65 555.46,102.56 555.55,100.94 555.64,100.90 555.73,100.88 555.82,101.59 555.91,100.86 556.00,101.93 556.09,101.80 556.18,101.86 556.27,102.33 556.36,101.53 556.45,101.66 556.54,103.44 556.63,101.47 556.72,102.40 556.81,101.59 556.90,101.04 556.99,101.05 557.08,100.66 557.17,101.57 557.26,100.91 557.35,101.11 557.44,102.91 557.53,101.44 557.62,102.84 557.71,101.89 557.80,102.55 557.89,100.95 557.98,101.78 558.07,104.50 558.16,102.53 558.25,102.73 558.34,101.89 558.43,102.58 558.52,100.38 558.61,100.73 558.70,102.12 558.79,102.55 558.88,101.22 558.97,101.46 559.06,101.28 559.15,101.47 559.24,100.37 559.33,100.12 559.42,101.59 559.51,99.80 559.60,100.63 559.69,100.97 559.78,100.55 559.87,101.95 559.96,101.21 560.05,101.61 560.14,100.60 560.23,100.90 560.32,102.26 560.41,102.10 560.50,101.20 560.59,102.10 560.68,101.91 560.77,101.88 560.86,103.44 560.95,101.28 561.04,102.17 561.13,102.17 561.22,101.47 561.31,100.46 561.40,102.47 561.49,102.01 561.58,101.78 561.67,101.75 561.76,101.75 561.85,100.77 561.94,102.05 562.03,99.79 562.12,101.71 562.21,100.13 562.30,101.36 562.39,102.51 562.48,101.46 562.57,101.22 562.66,102.29 562.75,101.45 562.84,101.31 562.93,101.32 563.02,103.37 563.11,102.46 563.20,102.27 563.29,100.47 563.38,102.42 563.47,100.37 563.56,102.27 563.65,100.56 563.74,103.85 563.83,99.96 563.92,103.07 564.01,102.62 564.10,99.86 564.19,101.51 564.28,103.31 564.37,102.98 564.46,100.00 564.55,101.22 564.64,100.52 564.73,100.68 564.82,101.09 564.91,103.74 565.00,101.92 565.09,101.54 565.18,101.43 565.27,102.49 565.36,102.52 565.45,100.81 565.54,103.35 565.63,100.64 565.72,101.50 565.81,102.27 565.90,103.61 565.99,101.43 566.08,102.10 566.17,103.18 566.26,102.46 566.35,103.00 566.44,102.91 566.53,102.08 566.62,102.48 566.71,102.78 566.80,101.78 566.89,103.50 566.98,99.71 567.07,100.84 567.16,103.34 567.25,102.27 567.34,101.13 567.43,102.22 567.52,102.97 567.61,101.23 567.70,102.63 567.79,101.69 567.88,101.70 567.97,101.75 568.06,103.00 568.15,100.64 568.24,101.44 568.33,102.53 568.42,100.54 568.51,100.16 568.60,102.43 568.69,101.83 568.78,101.67 568.87,101.98 568.96,100.81 569.05,104.90 569.14,100.80 569.23,101.37 569.32,100.34 569.41,101.40 569.50,103.44 569.59,101.85 569.68,102.46 569.77,101.33 569.86,103.74 569.95,102.01 570.04,100.52 570.13,102.64 570.22,101.44 570.31,102.47 570.40,101.97 570.49,102.10 570.58,101.96 570.67,100.87 570.76,100.24 570.85,102.83 570.94,101.66 571.03,102.09 571.12,101.30 571.21,99.66 571.30,100.44 571.39,103.22 571.48,100.94 571.57,101.35 571.66,100.21 571.75,101.18 571.84,101.33 571.93,101.48 572.02,101.63 572.11,101.04 572.20,101.09 572.29,101.66 572.38,102.00 572.47,101.51 572.56,103.46 572.65,101.85 572.74,101.80 572.83,100.94 572.92,102.68 573.01,100.54 573.10,99.92 573.19,100.58 573.28,102.23 573.37,100.39 573.46,102.91 573.55,101.54 573.64,99.98 573.73,101.31 573.82,103.39 573.91,100.65 574.00,100.18 574.09,102.06 574.18,102.88 574.27,102.58 574.36,101.19 574.45,101.72 574.54,101.86 574.63,102.75 574.72,103.78 574.81,101.47 574.90,102.96 574.99,101.31 575.08,102.32 575.17,100.81 575.26,101.05 575.35,102.34 575.44,101.07 575.53,102.99 575.62,101.59 575.71,102.33 575.80,102.26 575.89,102.10 575.98,102.68 576.07,103.75 576.16,105.94 576.25,101.63 576.34,103.27 576.43,102.88 576.52,102.23 576.61,103.57 576.70,102.47 576.79,103.40 576.88,104.85 576.97,101.60 577.06,104.02 577.15,104.31 577.24,102.95 577.33,104.55 577.42,104.45 577.51,103.80 577.60,105.46 577.69,102.93 577.78,104.98 577.87,104.12 577.96,103.32 578.05,104.26 578.14,104.12 578.23,105.36 578.32,103.03 578.41,104.40 578.50,104.18 578.59,106.28 578.68,103.58 578.77,105.84 578.86,103.00 578.95,105.18 579.04,104.73 579.13,105.29 579.22,104.22 579.31,102.99 579.40,103.44 579.49,106.38 579.58,105.30 579.67,104.24 579.76,106.06 579.85,104.43 579.94,104.47 580.03,104.02 580.12,106.48 580.21,107.31 580.30,104.37 580.39,105.68 580.48,106.41 580.57,107.59 580.66,103.05 580.75,105.65 580.84,106.20 580.93,104.08 581.02,106.02 581.11,105.83 581.20,106.40 581.29,105.11 581.38,106.15 581.47,105.14 581.56,106.40 581.65,105.97 581.74,105.46 581.83,104.44 581.92,107.56 582.01,107.05 582.10,106.85 582.19,105.32 582.28,105.66 582.37,107.73 582.46,106.82 582.55,105.24 582.64,106.17 582.73,106.30 582.82,105.98 582.91,105.26 583.00,107.50 583.09,106.86 583.18,106.09 583.27,104.74 583.36,105.76 583.45,106.37 583.54,107.27 583.63,106.05 583.72,107.56 583.81,106.61 583.90,105.75 583.99,103.73 584.08,105.37 584.17,105.08 584.26,106.45 584.35,106.96 584.44,108.04 584.53,106.66 584.62,105.54 584.71,109.07 584.80,107.06 584.89,106.51 584.98,106.53 585.07,105.47 585.16,107.47 585.25,107.23 585.34,108.47 585.43,108.01 585.52,107.80 585.61,108.21 585.70,106.69 585.79,106.56 585.88,106.97 585.97,105.80 586.06,106.92 586.15,106.76 586.24,107.77 586.33,107.11 586.42,105.25 586.51,107.20 586.60,108.60 586.69,105.39 586.78,106.48 586.87,107.27 586.96,105.96 587.05,106.75 587.14,107.37 587.23,106.03 587.32,107.65 587.41,107.78 587.50,106.14 587.59,107.45 587.68,108.51 587.77,107.29 587.86,107.91 587.95,108.14 588.04,107.29 588.13,108.51 588.22,107.94 588.31,106.60 588.40,108.11 588.49,108.47 588.58,108.43 588.67,107.02 588.76,108.13 588.85,109.05 588.94,107.94 589.03,108.90 589.12,109.03 589.21,107.74 589.30,108.44 589.39,107.53 589.48,108.88 589.57,107.76 589.66,107.33 589.75,107.86 589.84,107.83 589.93,108.30 590.02,108.40 590.11,106.82 590.20,107.34 590.29,108.35 590.38,108.49 590.47,108.12 590.56,110.63 590.65,109.17 590.74,108.02 590.83,108.82 590.92,109.44 591.01,108.51 591.10,106.46 591.19,108.28 591.28,108.25 591.37,110.31 591.46,106.45 591.55,109.77 591.64,108.13 591.73,109.21 591.82,108.03 591.91,108.51 592.00,109.46 592.09,108.46 592.18,109.42 592.27,108.34 592.36,108.03 592.45,108.24 592.54,107.98 592.63,108.37 592.72,109.83 592.81,107.39 592.90,106.93 592.99,108.55 593.08,110.22 593.17,109.62 593.26,109.91 593.35,109.85 593.44,107.95 593.53,108.80 593.62,106.12 593.71,108.13 593.80,109.33 593.89,107.25 593.98,106.78 594.07,107.54 594.16,109.03 594.25,109.96 594.34,111.36 594.43,110.26 594.52,107.43 594.61,106.67 594.70,109.08 594.79,109.98 594.88,107.41 594.97,108.49 595.06,108.58 595.15,109.07 595.24,108.88 595.33,109.57 595.42,110.11 595.51,109.18 595.60,109.85 595.69,111.07 595.78,108.19 595.87,108.18 595.96,109.70 596.05,111.01 596.14,109.41 596.23,110.31 596.32,108.99 596.41,110.18 596.50,108.72 596.59,109.99 596.68,109.74 596.77,109.75 596.86,110.71 596.95,110.44 597.04,108.86 597.13,110.30 597.22,107.84 597.31,110.43 597.40,112.13 597.49,110.03 597.58,110.03 597.67,109.62 597.76,110.38 597.85,109.17 597.94,110.26 598.03,109.38 598.12,109.25 598.21,109.79 598.30,109.63 598.39,108.06 598.48,111.70 598.57,109.88 598.66,108.15 598.75,110.80 598.84,109.77 598.93,110.00 599.02,110.50 599.11,108.99 599.20,107.06 599.29,109.78 599.38,110.12 599.47,110.85 599.56,109.20 599.65,109.68 599.74,110.33 599.83,109.66 599.92,109.74 600.01,110.24 600.10,109.07 600.19,111.52 600.28,109.17 600.37,110.09 600.46,109.76 600.55,109.41 600.64,110.60 600.73,111.07 600.82,111.50 600.91,110.69 601.00,109.73 601.09,110.98 601.18,108.82 601.27,110.24 601.36,110.70 601.45,110.76 601.54,109.15 601.63,108.84 601.72,111.83 601.81,109.80 601.90,108.74 601.99,109.14 602.08,110.33 602.17,111.44 602.26,110.34 602.35,111.48 602.44,110.58 602.53,110.82 602.62,111.32 602.71,110.05 602.80,110.70 602.89,110.07 602.98,109.85 603.07,111.07 603.16,109.70 603.25,110.56 603.34,109.76 603.43,110.43 603.52,110.03 603.61,111.56 603.70,110.62 603.79,110.63 603.88,112.11 603.97,107.88 604.06,109.55 604.15,108.05 604.24,110.61 604.33,111.03 604.42,111.24 604.51,110.90 604.60,109.85 604.69,112.31 604.78,110.97 604.87,110.46 604.96,109.67 605.05,111.11 605.14,110.28 605.23,110.33 605.32,110.95 605.41,110.97 605.50,110.02 605.59,111.96 605.68,109.88 605.77,109.79 605.86,111.12 605.95,110.97 606.04,110.93 606.13,110.49 606.22,110.93 606.31,110.38 606.40,109.39 606.49,111.61 606.58,110.00 606.67,110.74 606.76,111.64 606.85,111.00 606.94,113.52 607.03,109.71 607.12,110.33 607.21,111.11 607.30,112.30 607.39,110.83 607.48,109.75 607.57,112.14 607.66,110.25 607.75,110.93 607.84,111.94 607.93,110.52 608.02,110.74 608.11,111.61 608.20,110.99 608.29,111.46 608.38,110.34 608.47,111.11 608.56,110.23 608.65,109.82 608.74,112.87 608.83,111.69 608.92,112.13 609.01,110.41 609.10,111.29 609.19,111.14 609.28,110.04 609.37,111.85 609.46,110.71 609.55,111.20 609.64,110.01 609.73,112.32 609.82,112.12 609.91,111.79 610.00,110.62 610.09,110.97 610.18,112.59 610.27,111.24 610.36,111.75 610.45,111.65 610.54,110.52 610.63,112.94 610.72,109.76 610.81,111.78 610.90,111.51 610.99,110.13 611.08,111.92 611.17,112.11 611.26,111.69 611.35,110.91 611.44,112.08 611.53,112.70 611.62,111.90 611.71,113.28 611.80,112.51 611.89,112.44 611.98,113.02 612.07,111.18 612.16,111.32 612.25,112.27 612.34,112.29 612.43,113.20 612.52,112.88 612.61,112.02 612.70,112.07 612.79,111.64 612.88,111.57 612.97,111.51 613.06,112.75 613.15,111.52 613.24,111.64 613.33,112.12 613.42,111.53 613.51,111.80 613.60,110.06 613.69,112.38 613.78,111.78 613.87,112.24 613.96,112.42 614.05,110.44 614.14,114.28 614.23,112.29 614.32,112.33 614.41,110.59 614.50,112.77 614.59,112.60 614.68,111.93 614.77,112.50 614.86,113.45 614.95,112.02 615.04,111.53 615.13,113.55 615.22,112.62 615.31,112.24 615.40,114.47 615.49,112.57 615.58,112.29 615.67,112.70 615.76,112.11 615.85,112.68 615.94,112.63 616.03,111.93 616.12,112.29 616.21,112.81 616.30,112.89 616.39,113.08 616.48,113.27 616.57,112.81 616.66,113.06 616.75,112.27 616.84,112.39 616.93,113.55 617.02,110.89 617.11,112.98 617.20,115.47 617.29,111.03 617.38,114.02 617.47,111.14 617.56,113.02 617.65,114.15 617.74,114.04 617.83,111.92 617.92,111.59 618.01,111.47 618.10,113.39 618.19,112.42 618.28,112.78 618.37,113.01 618.46,113.16 618.55,113.28 618.64,112.93 618.73,111.41 618.82,114.13 618.91,110.43 619.00,113.96 619.09,112.35 619.18,112.72 619.27,112.44 619.36,112.59 619.45,112.91 619.54,112.69 619.63,111.98 619.72,113.71 619.81,112.46 619.90,114.17 619.99,112.86 620.08,112.39 620.17,113.41 620.26,113.82 620.35,112.24 620.44,112.81 620.53,114.33 620.62,112.21 620.71,112.35 620.80,113.26 620.89,112.06 620.98,110.98 621.07,111.69 621.16,113.49 621.25,113.75 621.34,113.70 621.43,113.54 621.52,112.13 621.61,113.81 621.70,114.24 621.79,112.64 621.88,114.08 621.97,112.95 622.06,113.45 622.15,113.62 622.24,112.02 622.33,114.60 622.42,112.59 622.51,113.26 622.60,112.93 622.69,113.77 622.78,113.76 622.87,113.41 622.96,114.63 623.05,113.66 623.14,113.08 623.23,110.94 623.32,113.21 623.41,113.21 623.50,112.72 623.59,112.74 623.68,114.01 623.77,114.42 623.86,115.16 623.95,114.52 624.04,112.93 624.13,113.78 624.22,112.39 624.31,114.21 624.40,113.90 624.49,113.07 624.58,113.52 624.67,113.41 624.76,113.09 624.85,114.78 624.94,116.33 625.03,114.38 625.12,114.59 625.21,113.83 625.30,113.40 625.39,115.60 625.48,113.41 625.57,114.07 625.66,113.64 625.75,114.26 625.84,113.72 625.93,114.28 626.02,112.70 626.11,113.71 626.20,114.98 626.29,112.93 626.38,113.26 626.47,115.01 626.56,114.20 626.65,114.77 626.74,111.96 626.83,114.00 626.92,112.80 627.01,112.71 627.10,114.26 627.19,114.93 627.28,112.65 627.37,113.00 627.46,113.45 627.55,113.85 627.64,112.84 627.73,115.91 627.82,114.49 627.91,113.69 628.00,113.57 628.09,116.00 628.18,115.94 628.27,113.62 628.36,114.35 628.45,115.13 628.54,113.06 628.63,113.58 628.72,115.24 628.81,113.51 628.90,113.74 628.99,112.97 629.08,113.48 629.17,114.72 629.26,113.44 629.35,113.04 629.44,113.63 629.53,115.68 629.62,114.33 629.71,113.71 629.80,114.33 629.89,114.58 629.98,114.32 630.07,112.69 630.16,114.49 630.25,114.06 630.34,114.97 630.43,113.11 630.52,115.16 630.61,113.86 630.70,112.84 630.79,115.42 630.88,113.87 630.97,114.63 631.06,114.19 631.15,115.26 631.24,115.28 631.33,115.29 631.42,114.96 631.51,113.01 631.60,112.96 631.69,114.56 631.78,113.59 631.87,114.80 631.96,114.56 632.05,113.23 632.14,113.56 632.23,113.49 632.32,113.70 632.41,114.29 632.50,115.04 632.59,115.61 632.68,113.67 632.77,114.02 632.86,115.82 632.95,115.27 633.04,114.72 633.13,112.56 633.22,113.70 633.31,114.69 633.40,114.07 633.49,116.24 633.58,114.66 633.67,114.83 633.76,113.68 633.85,113.73 633.94,114.06 634.03,114.10 634.12,114.44 634.21,114.96 634.30,114.85 634.39,115.50 634.48,113.54 634.57,114.86 634.66,114.89 634.75,116.03 634.84,114.53 634.93,114.99 635.02,114.04 635.11,115.09 635.20,115.08 635.29,114.23 635.38,114.40 635.47,114.74 635.56,115.26 635.65,113.83 635.74,115.53 635.83,114.53 635.92,116.40 636.01,116.04 636.10,114.50 636.19,114.32 636.28,116.89 636.37,115.38 636.46,115.34 636.55,114.52 636.64,114.78 636.73,115.56 636.82,115.41 636.91,114.22 637.00,115.95 637.09,115.18 637.18,114.15 637.27,115.77 637.36,114.81 637.45,115.61 637.54,114.51 637.63,115.28 637.72,113.65 637.81,115.30 637.90,113.75 637.99,115.15 638.08,112.93 638.17,114.98 638.26,115.63 638.35,115.44 638.44,116.04 638.53,114.18 638.62,116.36 638.71,116.40 638.80,114.10 638.89,114.44 638.98,114.63 639.07,115.09 639.16,115.27 639.25,113.10 639.34,115.62 639.43,114.93 639.52,114.31 639.61,115.93 639.70,114.88 639.79,116.10 639.88,115.62 639.97,114.93 640.06,116.15 640.15,115.86 640.24,114.80 640.33,113.90 640.42,114.78 640.51,115.74 640.60,115.05 640.69,116.69 640.78,115.47 640.87,115.42 640.96,115.60 641.05,114.56 641.14,115.19 641.23,114.76 641.32,113.39 641.41,113.86 641.50,115.91 641.59,114.96 641.68,115.23 641.77,114.14 641.86,114.87 641.95,115.99 642.04,115.44 642.13,114.95 642.22,116.61 642.31,115.33 642.40,115.10 642.49,116.32 642.58,114.00 642.67,115.85 642.76,114.52 642.85,114.79 642.94,114.88 643.03,115.54 643.12,115.53 643.21,115.70 643.30,115.63 643.39,116.59 643.48,116.83 643.57,116.05 643.66,116.09 643.75,115.19 643.84,114.62 643.93,115.98 644.02,115.54 644.11,116.21 644.20,114.06 644.29,117.68 644.38,114.52 644.47,115.58 644.56,116.35 644.65,114.45 644.74,115.13 644.83,113.96 644.92,114.44 645.01,114.04 645.10,115.68 645.19,115.84 645.28,115.36 645.37,116.62 645.46,116.73 645.55,115.63 645.64,115.46 645.73,115.43 645.82,115.29 645.91,116.70 646.00,115.86 646.09,115.41 646.18,115.50 646.27,116.12 646.36,115.38 646.45,115.95 646.54,115.68 646.63,116.79 646.72,116.64 646.81,114.61 646.90,115.61 646.99,116.31 647.08,115.39 647.17,116.40 647.26,116.03 647.35,116.24 647.44,115.73 647.53,116.03 647.62,116.21 647.71,114.64 647.80,115.08 647.89,115.01 647.98,117.15 648.07,116.07 648.16,116.13 648.25,115.98 648.34,115.44 648.43,115.27 648.52,116.53 648.61,115.58 648.70,117.12 648.79,116.04 648.88,115.96 648.97,115.72 649.06,115.85 649.15,115.94 649.24,117.11 649.33,117.75 649.42,115.03 649.51,116.14 649.60,116.50 649.69,115.25 649.78,115.46 649.87,115.61 649.96,114.09 650.05,116.49 650.14,115.95 650.23,115.92 650.32,116.06 650.41,116.20 650.50,117.81 650.59,116.16 650.68,116.67 650.77,115.63 650.86,116.31 650.95,115.80 651.04,115.94 651.13,115.36 651.22,115.43 651.31,116.43 651.40,116.66 651.49,116.44 651.58,115.57 651.67,116.34 651.76,114.15 651.85,116.84 651.94,116.09 652.03,116.33 652.12,117.03 652.21,115.81 652.30,116.88 652.39,115.81 652.48,116.58 652.57,115.85 652.66,116.41 652.75,117.29 652.84,115.68 652.93,115.72 653.02,115.95 653.11,116.44 653.20,118.32 653.29,115.77 653.38,114.66 653.47,115.73 653.56,115.02 653.65,115.81 653.74,116.26 653.83,115.52 653.92,115.74 654.01,114.84 654.10,116.41 654.19,115.71 654.28,117.11 654.37,117.09 654.46,115.63 654.55,116.02 654.64,116.35 654.73,116.89 654.82,115.05 654.91,116.27 655.00,117.75 655.09,116.27 655.18,116.51 655.27,116.35 655.36,115.45 655.45,117.08 655.54,116.57 655.63,116.50 655.72,116.93 655.81,116.98 655.90,114.95 655.99,116.76 656.08,115.96 656.17,116.53 656.26,115.87 656.35,115.76 656.44,117.14 656.53,116.42 656.62,116.22 656.71,116.22 656.80,116.50 656.89,116.44 656.98,114.67 657.07,115.80 657.16,116.29 657.25,117.03 657.34,117.50 657.43,115.78 657.52,117.94 657.61,116.56 657.70,116.87 657.79,116.10 657.88,116.06 657.97,117.59 658.06,116.36 658.15,116.45 658.24,117.40 658.33,117.83 658.42,115.42 658.51,116.40 658.60,116.54 658.69,117.91 658.78,118.40 658.87,116.53 658.96,116.85 659.05,117.22 659.14,117.44 659.23,116.35 659.32,117.23 659.41,116.07 659.50,114.60 659.59,115.57 659.68,116.77 659.77,117.19 659.86,114.93 659.95,115.28 660.04,116.60 660.13,114.12 660.22,117.05 660.31,117.40 660.40,114.43 660.49,117.21 660.58,116.51 660.67,117.70 660.76,116.87 660.85,116.48 660.94,116.75 661.03,117.36 661.12,116.81 661.21,116.71 661.30,115.61 661.39,117.04 661.48,116.71 661.57,118.05 661.66,116.68 661.75,116.63 661.84,116.24 661.93,117.23 662.02,116.55 662.11,116.19 662.20,117.89 662.29,118.02 662.38,116.38 662.47,115.96 662.56,117.55 662.65,116.11 662.74,118.80 662.83,116.62 662.92,117.43 663.01,115.78 663.10,116.71 663.19,117.53 663.28,117.06 663.37,116.34 663.46,118.54 663.55,117.28 663.64,116.58 663.73,116.30 663.82,116.55 663.91,117.74 664.00,116.19 664.09,116.78 664.18,116.16 664.27,117.67 664.36,116.64 664.45,117.39 664.54,117.18 664.63,116.34 664.72,117.28 664.81,117.45 664.90,115.93 664.99,117.28 665.08,119.36 665.17,116.56 665.26,117.24 665.35,115.81 665.44,117.11 665.53,116.35 665.62,117.34 665.71,116.75 665.80,115.93 665.89,117.59 665.98,116.63 666.07,116.05 666.16,116.84 666.25,116.09 666.34,117.08 666.43,116.75 666.52,116.53 666.61,117.28 666.70,115.88 666.79,117.51 666.88,115.35 666.97,117.97 667.06,116.94 667.15,116.62 667.24,116.28 667.33,117.21 667.42,116.70 667.51,116.69 667.60,117.56 667.69,116.50 667.78,116.65 667.87,117.13 667.96,117.60 668.05,116.72 668.14,116.94 668.23,116.86 668.32,117.36 668.41,117.90 668.50,116.16 668.59,116.74 668.68,116.80 668.77,117.26 668.86,117.92 668.95,116.83 669.04,116.99 669.13,117.65 669.22,115.95 669.31,116.29 669.40,116.52 669.49,116.84 669.58,117.01 669.67,116.47 669.76,118.10 669.85,116.34 669.94,116.70 670.03,117.63 670.12,117.40 670.21,116.84 670.30,117.12 670.39,117.44 670.48,116.85 670.57,117.32 670.66,116.20 670.75,116.91 670.84,115.68 670.93,116.22 671.02,116.04 671.11,117.75 671.20,116.53 671.29,117.07 671.38,116.20 671.47,116.71 671.56,116.66 671.65,116.25 671.74,117.47 671.83,115.68 671.92,117.30 672.01,118.75 672.10,116.28 672.19,116.88 672.28,115.75 672.37,116.84 672.46,115.62 672.55,117.30 672.64,116.50 672.73,115.54 672.82,115.93 672.91,115.72 673.00,116.65 673.09,117.45 673.18,116.56 673.27,116.01 673.36,116.25 673.45,116.92 673.54,115.12 673.63,117.25 673.72,117.12 673.81,115.10 673.90,117.67 673.99,115.67 674.08,116.68 674.17,117.66 674.26,115.67 674.35,115.52 674.44,116.03 674.53,116.06 674.62,116.72 674.71,116.45 674.80,116.47 674.89,116.48 674.98,116.69 675.07,116.22 675.16,117.05 675.25,116.82 675.34,116.10 675.43,118.10 675.52,115.93 675.61,117.34 675.70,116.30 675.79,117.08 675.88,117.19 675.97,117.43 676.06,117.82 676.15,116.24 676.24,118.83 676.33,117.12 676.42,116.27 676.51,115.89 676.60,118.48 676.69,117.99 676.78,116.83 676.87,117.38 676.96,117.76 677.05,116.92 677.14,116.55 677.23,116.82 677.32,117.44 677.41,116.87 677.50,115.99 677.59,117.38 677.68,115.65 677.77,116.33 677.86,117.71" fill="none" stroke="#0808d2" stroke-width="1.1" stroke-linejoin="round"/>
<polyline points="421.00,177.69 421.09,179.15 421.18,178.11 421.27,177.61 421.36,178.81 421.45,173.16 421.54,173.83 421.63,172.17 421.72,174.07 421.81,175.81 421.90,173.65 421.99,174.34 422.08,169.64 422.17,173.18 422.26,170.99 422.35,175.70 422.44,173.84 422.53,173.74 422.62,171.67 422.71,172.71 422.80,172.60 422.89,170.57 422.98,170.12 423.07,170.66 423.16,169.60 423.25,169.47 423.34,169.90 423.43,168.96 423.52,171.58 423.61,167.13 423.70,171.45 423.79,168.67 423.88,168.70 423.97,167.11 424.06,169.21 424.15,168.90 424.24,169.60 424.33,168.16 424.42,169.20 424.51,172.25 424.60,169.56 424.69,167.66 424.78,170.35 424.87,168.27 424.96,169.50 425.05,169.44 425.14,167.52 425.23,164.62 425.32,167.43 425.41,169.00 425.50,167.22 425.59,168.65 425.68,169.57 425.77,166.73 425.86,169.91 425.95,170.57 426.04,169.53 426.13,169.65 426.22,169.49 426.31,171.57 426.40,167.77 426.49,167.42 426.58,168.50 426.67,165.75 426.76,164.58 426.85,165.80 426.94,168.08 427.03,168.27 427.12,164.62 427.21,163.99 427.30,166.85 427.39,167.09 427.48,167.35 427.57,168.66 427.66,169.68 427.75,167.88 427.84,168.58 427.93,165.50 428.02,165.36 428.11,167.93 428.20,168.72 428.29,168.84 428.38,168.61 428.47,168.97 428.56,169.03 428.65,164.41 428.74,166.26 428.83,168.43 428.92,168.70 429.01,164.90 429.10,169.77 429.19,166.87 429.28,167.26 429.37,168.19 429.46,169.06 429.55,165.13 429.64,169.52 429.73,167.89 429.82,166.37 429.91,167.28 430.00,163.85 430.09,166.63 430.18,168.14 430.27,166.55 430.36,167.24 430.45,167.58 430.54,167.94 430.63,169.70 430.72,167.83 430.81,167.42 430.90,168.86 430.99,171.63 431.08,167.29 431.17,168.83 431.26,165.09 431.35,170.34 431.44,169.12 431.53,170.33 431.62,167.84 431.71,166.09 431.80,169.55 431.89,169.32 431.98,166.42 432.07,165.35 432.16,168.79 432.25,167.69 432.34,172.68 432.43,166.91 432.52,167.07 432.61,167.83 432.70,165.06 432.79,166.45 432.88,170.98 432.97,167.82 433.06,166.97 433.15,165.80 433.24,169.11 433.33,169.25 433.42,168.54 433.51,167.40 433.60,168.64 433.69,168.78 433.78,166.89 433.87,169.22 433.96,164.35 434.05,165.83 434.14,167.59 434.23,167.94 434.32,166.07 434.41,168.73 434.50,170.02 434.59,168.95 434.68,168.56 434.77,169.63 434.86,168.88 434.95,166.14 435.04,167.81 435.13,170.46 435.22,166.16 435.31,168.29 435.40,167.50 435.49,166.60 435.58,166.40 435.67,168.37 435.76,168.75 435.85,168.74 435.94,165.64 436.03,167.69 436.12,168.81 436.21,169.87 436.30,169.39 436.39,169.67 436.48,170.14 436.57,169.65 436.66,166.75 436.75,168.28 436.84,166.91 436.93,163.96 437.02,165.18 437.11,171.80 437.20,166.13 437.29,164.13 437.38,167.02 437.47,170.70 437.56,167.92 437.65,168.68 437.74,167.45 437.83,167.75 437.92,170.08 438.01,169.21 438.10,167.62 438.19,169.30 438.28,169.57 438.37,167.25 438.46,168.06 438.55,167.98 438.64,166.31 438.73,169.45 438.82,167.08 438.91,166.23 439.00,164.32 439.09,164.98 439.18,169.80 439.27,165.07 439.36,167.75 439.45,166.29 439.54,167.76 439.63,167.85 439.72,165.37 439.81,166.14 439.90,166.75 439.99,166.71 440.08,166.38 440.17,165.81 440.26,167.37 440.35,168.49 440.44,167.06 440.53,164.75 440.62,166.64 440.71,165.98 440.80,166.59 440.89,168.92 440.98,165.25 441.07,165.51 441.16,163.90 441.25,164.86 441.34,164.28 441.43,167.97 441.52,165.63 441.61,164.01 441.70,168.27 441.79,162.52 441.88,166.23 441.97,166.41 442.06,165.55 442.15,164.01 442.24,164.15 442.33,163.69 442.42,165.55 442.51,160.06 442.60,163.12 442.69,164.18 442.78,162.81 442.87,160.58 442.96,163.21 443.05,162.22 443.14,164.80 443.23,165.72 443.32,163.31 443.41,159.72 443.50,162.60 443.59,161.21 443.68,163.85 443.77,165.46 443.86,162.95 443.95,165.76 444.04,164.72 444.13,163.16 444.22,160.32 444.31,162.00 444.40,159.18 444.49,163.30 444.58,161.57 444.67,163.57 444.76,161.54 444.85,157.55 444.94,161.83 445.03,162.15 445.12,163.23 445.21,158.53 445.30,158.43 445.39,159.95 445.48,157.84 445.57,157.11 445.66,157.40 445.75,163.53 445.84,157.81 445.93,156.96 446.02,157.73 446.11,158.30 446.20,160.32 446.29,159.54 446.38,159.08 446.47,157.62 446.56,157.63 446.65,156.09 446.74,154.42 446.83,160.30 446.92,155.85 447.01,158.18 447.10,155.73 447.19,155.93 447.28,155.63 447.37,153.35 447.46,155.37 447.55,155.95 447.64,156.51 447.73,155.74 447.82,156.43 447.91,154.98 448.00,154.26 448.09,150.71 448.18,152.93 448.27,156.27 448.36,153.61 448.45,154.54 448.54,152.61 448.63,151.61 448.72,156.01 448.81,152.92 448.90,154.63 448.99,152.77 449.08,151.15 449.17,147.62 449.26,151.37 449.35,148.34 449.44,147.01 449.53,152.66 449.62,151.57 449.71,151.22 449.80,150.00 449.89,149.65 449.98,150.22 450.07,149.56 450.16,149.22 450.25,150.15 450.34,144.54 450.43,150.01 450.52,147.24 450.61,149.57 450.70,149.92 450.79,146.33 450.88,148.91 450.97,148.71 451.06,146.01 451.15,146.13 451.24,147.05 451.33,142.94 451.42,145.78 451.51,146.69 451.60,145.46 451.69,143.37 451.78,145.24 451.87,148.30 451.96,147.82 452.05,145.23 452.14,143.92 452.23,145.10 452.32,144.99 452.41,143.67 452.50,144.10 452.59,145.56 452.68,145.93 452.77,140.11 452.86,145.70 452.95,144.14 453.04,145.70 453.13,143.59 453.22,144.22 453.31,146.09 453.40,138.23 453.49,145.73 453.58,143.26 453.67,139.76 453.76,138.22 453.85,143.08 453.94,140.72 454.03,143.99 454.12,142.56 454.21,141.87 454.30,143.64 454.39,142.20 454.48,143.02 454.57,143.07 454.66,142.12 454.75,142.82 454.84,142.73 454.93,139.06 455.02,140.81 455.11,140.99 455.20,140.50 455.29,138.42 455.38,140.07 455.47,141.53 455.56,141.24 455.65,143.41 455.74,139.84 455.83,140.09 455.92,139.83 456.01,140.22 456.10,139.71 456.19,137.58 456.28,141.23 456.37,142.27 456.46,142.46 456.55,138.78 456.64,140.24 456.73,143.60 456.82,140.34 456.91,141.08 457.00,140.23 457.09,142.13 457.18,142.05 457.27,144.28 457.36,141.24 457.45,141.14 457.54,138.38 457.63,139.69 457.72,139.20 457.81,139.80 457.90,138.17 457.99,142.32 458.08,138.57 458.17,140.74 458.26,138.20 458.35,140.84 458.44,142.98 458.53,138.89 458.62,140.83 458.71,140.10 458.80,140.66 458.89,140.87 458.98,139.12 459.07,139.86 459.16,139.17 459.25,138.76 459.34,138.08 459.43,141.66 459.52,138.85 459.61,141.13 459.70,140.93 459.79,138.36 459.88,141.69 459.97,138.54 460.06,140.95 460.15,142.28 460.24,138.69 460.33,138.31 460.42,138.26 460.51,143.52 460.60,139.12 460.69,137.63 460.78,140.98 460.87,139.32 460.96,139.51 461.05,137.88 461.14,135.81 461.23,138.18 461.32,137.58 461.41,136.55 461.50,137.32 461.59,137.43 461.68,140.17 461.77,139.88 461.86,139.44 461.95,137.59 462.04,136.26 462.13,138.64 462.22,138.74 462.31,139.45 462.40,137.60 462.49,137.26 462.58,137.78 462.67,135.59 462.76,135.59 462.85,137.74 462.94,134.45 463.03,136.15 463.12,137.34 463.21,136.24 463.30,136.33 463.39,133.62 463.48,134.96 463.57,134.39 463.66,135.40 463.75,134.66 463.84,133.55 463.93,136.07 464.02,133.36 464.11,131.50 464.20,130.48 464.29,130.94 464.38,129.65 464.47,132.84 464.56,130.82 464.65,129.18 464.74,128.50 464.83,127.81 464.92,129.26 465.01,132.14 465.10,131.84 465.19,130.98 465.28,131.97 465.37,129.49 465.46,134.50 465.55,133.73 465.64,137.09 465.73,135.37 465.82,135.60 465.91,137.36 466.00,136.53 466.09,140.19 466.18,138.99 466.27,139.63 466.36,140.09 466.45,139.50 466.54,141.36 466.63,141.39 466.72,144.43 466.81,142.23 466.90,143.23 466.99,142.40 467.08,143.02 467.17,143.59 467.26,146.60 467.35,145.10 467.44,146.94 467.53,145.35 467.62,145.55 467.71,143.39 467.80,148.08 467.89,150.30 467.98,146.88 468.07,149.72 468.16,148.93 468.25,146.59 468.34,148.96 468.43,146.32 468.52,147.25 468.61,149.63 468.70,147.87 468.79,145.66 468.88,149.65 468.97,145.52 469.06,146.85 469.15,146.38 469.24,146.48 469.33,145.18 469.42,143.72 469.51,149.02 469.60,144.34 469.69,144.18 469.78,141.45 469.87,145.19 469.96,146.81 470.05,146.70 470.14,148.58 470.23,146.29 470.32,144.28 470.41,143.39 470.50,145.33 470.59,142.73 470.68,142.82 470.77,140.72 470.86,142.12 470.95,144.82 471.04,141.34 471.13,141.80 471.22,137.07 471.31,142.64 471.40,140.75 471.49,142.01 471.58,139.79 471.67,137.68 471.76,136.49 471.85,139.04 471.94,137.84 472.03,136.00 472.12,137.10 472.21,135.91 472.30,137.77 472.39,135.78 472.48,134.33 472.57,135.99 472.66,135.18 472.75,138.35 472.84,135.32 472.93,134.02 473.02,136.04 473.11,135.80 473.20,136.70 473.29,136.72 473.38,134.89 473.47,136.56 473.56,136.62 473.65,135.08 473.74,136.24 473.83,137.63 473.92,135.03 474.01,136.04 474.10,137.22 474.19,138.03 474.28,139.20 474.37,136.54 474.46,139.37 474.55,140.14 474.64,141.84 474.73,139.05 474.82,138.56 474.91,137.88 475.00,141.41 475.09,142.84 475.18,140.06 475.27,142.11 475.36,143.05 475.45,143.49 475.54,141.69 475.63,143.60 475.72,142.82 475.81,141.72 475.90,143.88 475.99,144.32 476.08,142.57 476.17,145.06 476.26,147.79 476.35,142.72 476.44,146.47 476.53,147.16 476.62,146.20 476.71,147.00 476.80,146.47 476.89,149.35 476.98,146.20 477.07,147.83 477.16,145.45 477.25,149.34 477.34,149.82 477.43,147.07 477.52,148.72 477.61,151.20 477.70,150.11 477.79,149.40 477.88,147.81 477.97,152.59 478.06,155.42 478.15,152.12 478.24,153.86 478.33,154.20 478.42,153.79 478.51,154.41 478.60,154.78 478.69,153.59 478.78,159.07 478.87,159.71 478.96,156.29 479.05,158.82 479.14,155.07 479.23,156.22 479.32,158.54 479.41,155.28 479.50,155.28 479.59,158.03 479.68,154.70 479.77,160.59 479.86,159.32 479.95,158.77 480.04,159.64 480.13,157.44 480.22,157.60 480.31,160.52 480.40,160.88 480.49,159.87 480.58,159.77 480.67,159.22 480.76,162.36 480.85,158.15 480.94,159.29 481.03,159.96 481.12,158.63 481.21,159.12 481.30,159.75 481.39,163.03 481.48,164.40 481.57,162.36 481.66,159.53 481.75,161.24 481.84,162.11 481.93,162.07 482.02,162.08 482.11,163.58 482.20,160.01 482.29,162.24 482.38,163.60 482.47,164.51 482.56,164.01 482.65,163.77 482.74,163.68 482.83,163.04 482.92,164.33 483.01,164.04 483.10,163.44 483.19,166.48 483.28,166.60 483.37,164.40 483.46,166.04 483.55,167.07 483.64,165.83 483.73,165.77 483.82,166.49 483.91,163.42 484.00,163.91 484.09,167.01 484.18,166.81 484.27,168.61 484.36,165.97 484.45,168.54 484.54,168.64 484.63,170.18 484.72,166.18 484.81,167.01 484.90,168.13 484.99,168.27 485.08,166.54 485.17,167.35 485.26,166.41 485.35,171.98 485.44,168.58 485.53,168.83 485.62,168.08 485.71,169.19 485.80,170.48 485.89,168.96 485.98,169.55 486.07,172.98 486.16,171.26 486.25,170.38 486.34,169.53 486.43,170.26 486.52,169.32 486.61,170.95 486.70,169.67 486.79,169.71 486.88,170.29 486.97,169.41 487.06,171.40 487.15,174.94 487.24,170.37 487.33,168.93 487.42,172.89 487.51,171.39 487.60,174.55 487.69,172.25 487.78,173.12 487.87,170.66 487.96,169.50 488.05,171.63 488.14,172.92 488.23,170.70 488.32,169.65 488.41,171.14 488.50,171.38 488.59,171.55 488.68,171.99 488.77,175.54 488.86,172.06 488.95,171.27 489.04,170.39 489.13,173.13 489.22,169.61 489.31,174.01 489.40,171.84 489.49,169.61 489.58,172.03 489.67,171.54 489.76,173.44 489.85,169.40 489.94,171.82 490.03,171.44 490.12,172.73 490.21,169.66 490.30,170.11 490.39,174.03 490.48,171.89 490.57,168.85 490.66,171.38 490.75,169.67 490.84,169.72 490.93,168.86 491.02,171.96 491.11,169.65 491.20,170.62 491.29,170.34 491.38,167.93 491.47,168.95 491.56,171.03 491.65,167.54 491.74,170.06 491.83,169.44 491.92,170.42 492.01,170.36 492.10,170.46 492.19,169.24 492.28,169.42 492.37,167.92 492.46,168.05 492.55,170.02 492.64,167.75 492.73,169.98 492.82,169.83 492.91,167.15 493.00,168.98 493.09,166.88 493.18,168.39 493.27,166.63 493.36,168.06 493.45,167.65 493.54,165.73 493.63,169.97 493.72,168.21 493.81,164.35 493.90,166.93 493.99,165.61 494.08,168.94 494.17,165.73 494.26,166.17 494.35,165.14 494.44,166.10 494.53,164.25 494.62,163.54 494.71,163.94 494.80,163.87 494.89,165.20 494.98,164.29 495.07,163.40 495.16,163.33 495.25,162.50 495.34,163.90 495.43,160.76 495.52,163.27 495.61,165.23 495.70,163.03 495.79,162.63 495.88,163.63 495.97,162.29 496.06,162.57 496.15,164.67 496.24,162.87 496.33,166.60 496.42,164.68 496.51,163.87 496.60,163.24 496.69,163.86 496.78,161.15 496.87,164.81 496.96,165.85 497.05,165.54 497.14,164.28 497.23,165.90 497.32,166.09 497.41,165.17 497.50,166.01 497.59,167.14 497.68,166.50 497.77,165.50 497.86,166.23 497.95,166.61 498.04,164.33 498.13,166.94 498.22,166.77 498.31,164.10 498.40,164.93 498.49,170.01 498.58,167.82 498.67,169.74 498.76,167.52 498.85,170.36 498.94,169.19 499.03,167.62 499.12,169.13 499.21,171.08 499.30,172.39 499.39,169.95 499.48,168.78 499.57,168.38 499.66,170.71 499.75,171.47 499.84,170.34 499.93,170.20 500.02,171.68 500.11,171.43 500.20,171.51 500.29,169.07 500.38,170.94 500.47,174.22 500.56,171.80 500.65,175.39 500.74,172.79 500.83,172.08 500.92,173.07 501.01,173.72 501.10,172.11 501.19,173.64 501.28,172.94 501.37,175.70 501.46,173.27 501.55,174.25 501.64,172.20 501.73,172.57 501.82,174.48 501.91,173.52 502.00,174.52 502.09,175.39 502.18,175.97 502.27,173.40 502.36,175.19 502.45,176.45 502.54,174.72 502.63,173.96 502.72,174.88 502.81,178.14 502.90,176.04 502.99,178.23 503.08,175.78 503.17,177.90 503.26,174.41 503.35,176.12 503.44,176.67 503.53,179.02 503.62,177.36 503.71,178.33 503.80,176.33 503.89,176.41 503.98,178.78 504.07,179.07 504.16,178.88 504.25,178.92 504.34,176.66 504.43,180.36 504.52,177.75 504.61,179.30 504.70,178.67 504.79,175.36 504.88,175.17 504.97,175.69 505.06,177.84 505.15,179.46 505.24,177.68 505.33,179.20 505.42,176.46 505.51,177.33 505.60,177.00 505.69,178.29 505.78,176.74 505.87,178.19 505.96,179.15 506.05,177.77 506.14,177.22 506.23,177.83 506.32,176.82 506.41,177.09 506.50,179.56 506.59,178.95 506.68,176.58 506.77,178.13 506.86,179.11 506.95,179.57 507.04,179.36 507.13,179.81 507.22,178.45 507.31,178.48 507.40,178.18 507.49,179.96 507.58,179.64 507.67,180.87 507.76,179.99 507.85,177.43 507.94,176.55 508.03,176.66 508.12,177.31 508.21,179.31 508.30,176.64 508.39,175.81 508.48,178.25 508.57,179.55 508.66,179.51 508.75,180.68 508.84,178.43 508.93,177.73 509.02,178.06 509.11,176.70 509.20,177.57 509.29,180.14 509.38,181.21 509.47,180.11 509.56,178.83 509.65,178.11 509.74,178.75 509.83,175.95 509.92,179.18 510.01,179.44 510.10,178.24 510.19,178.44 510.28,176.19 510.37,179.43 510.46,179.43 510.55,174.78 510.64,177.63 510.73,178.84 510.82,180.56 510.91,177.25 511.00,178.33 511.09,180.29 511.18,178.99 511.27,178.09 511.36,177.79 511.45,178.41 511.54,177.33 511.63,179.68 511.72,177.24 511.81,179.10 511.90,179.58 511.99,179.94 512.08,178.55 512.17,178.43 512.26,178.85 512.35,178.54 512.44,179.85 512.53,178.31 512.62,180.93 512.71,182.05 512.80,177.60 512.89,178.96 512.98,176.94 513.07,179.39 513.16,178.95 513.25,178.14 513.34,177.06 513.43,178.43 513.52,180.98 513.61,180.45 513.70,178.88 513.79,177.58 513.88,178.34 513.97,177.33 514.06,176.62 514.15,177.13 514.24,179.12 514.33,178.72 514.42,178.55 514.51,176.90 514.60,176.51 514.69,179.59 514.78,177.83 514.87,179.80 514.96,177.33 515.05,179.52 515.14,178.58 515.23,177.72 515.32,177.72 515.41,180.70 515.50,179.43 515.59,177.91 515.68,178.46 515.77,176.27 515.86,180.41 515.95,180.00 516.04,177.71 516.13,178.80 516.22,174.72 516.31,179.44 516.40,178.80 516.49,178.53 516.58,179.23 516.67,178.56 516.76,176.94 516.85,177.28 516.94,177.92 517.03,179.28 517.12,178.16 517.21,177.28 517.30,178.57 517.39,176.56 517.48,180.71 517.57,178.48 517.66,176.85 517.75,178.29 517.84,179.43 517.93,178.75 518.02,180.61 518.11,176.28 518.20,180.04 518.29,178.01 518.38,179.14 518.47,180.17 518.56,176.52 518.65,176.25 518.74,177.52 518.83,175.92 518.92,175.48 519.01,178.08 519.10,179.42 519.19,177.37 519.28,178.57 519.37,182.51 519.46,178.35 519.55,177.54 519.64,177.71 519.73,178.44 519.82,177.54 519.91,178.74 520.00,178.15 520.09,179.00 520.18,178.04 520.27,177.75 520.36,176.69 520.45,176.12 520.54,177.46 520.63,177.32 520.72,178.14 520.81,177.68 520.90,177.29 520.99,180.53 521.08,178.14 521.17,179.22 521.26,176.46 521.35,178.95 521.44,179.14 521.53,178.24 521.62,176.59 521.71,179.20 521.80,176.77 521.89,175.74 521.98,175.65 522.07,177.69 522.16,177.00 522.25,178.57 522.34,178.40 522.43,179.24 522.52,177.97 522.61,177.69 522.70,177.55 522.79,176.57 522.88,176.51 522.97,176.62 523.06,177.78 523.15,176.46 523.24,177.37 523.33,178.77 523.42,174.56 523.51,176.38 523.60,176.23 523.69,177.40 523.78,175.60 523.87,176.58 523.96,180.14 524.05,175.72 524.14,177.25 524.23,177.60 524.32,176.98 524.41,175.89 524.50,178.52 524.59,175.02 524.68,176.14 524.77,177.02 524.86,176.53 524.95,178.68 525.04,176.88 525.13,179.53 525.22,177.23 525.31,179.07 525.40,177.73 525.49,176.92 525.58,176.86 525.67,178.42 525.76,176.55 525.85,177.15 525.94,176.25 526.03,174.76 526.12,177.83 526.21,177.95 526.30,175.76 526.39,177.75 526.48,176.91 526.57,174.94 526.66,176.09 526.75,178.00 526.84,178.44 526.93,177.69 527.02,180.54 527.11,177.67 527.20,176.38 527.29,175.53 527.38,179.05 527.47,176.74 527.56,176.87 527.65,176.36 527.74,176.38 527.83,176.93 527.92,177.92 528.01,178.04 528.10,177.82 528.19,178.55 528.28,176.88 528.37,176.28 528.46,177.43 528.55,175.11 528.64,178.53 528.73,178.15 528.82,178.20 528.91,176.33 529.00,177.04 529.09,177.66 529.18,176.48 529.27,176.41 529.36,177.45 529.45,177.89 529.54,176.97 529.63,178.96 529.72,180.36 529.81,178.48 529.90,177.62 529.99,177.48 530.08,179.75 530.17,178.26 530.26,178.64 530.35,178.22 530.44,177.33 530.53,179.76 530.62,177.76 530.71,178.24 530.80,175.62 530.89,180.61 530.98,179.01 531.07,178.06 531.16,177.29 531.25,177.52 531.34,176.29 531.43,178.82 531.52,177.31 531.61,178.83 531.70,178.89 531.79,180.60 531.88,178.68 531.97,178.80 532.06,179.07 532.15,177.82 532.24,178.29 532.33,178.97 532.42,179.95 532.51,179.52 532.60,178.40 532.69,180.13 532.78,178.35 532.87,177.09 532.96,180.63 533.05,178.92 533.14,178.41 533.23,177.61 533.32,178.51 533.41,180.95 533.50,179.02 533.59,181.63 533.68,179.19 533.77,180.48 533.86,179.28 533.95,178.76 534.04,178.83 534.13,179.05 534.22,178.02 534.31,178.03 534.40,179.86 534.49,180.89 534.58,179.71 534.67,179.62 534.76,178.58 534.85,180.90 534.94,180.85 535.03,178.41 535.12,179.83 535.21,179.42 535.30,178.16 535.39,181.67 535.48,181.24 535.57,180.32 535.66,181.59 535.75,179.50 535.84,180.43 535.93,181.67 536.02,179.90 536.11,180.62 536.20,179.27 536.29,181.12 536.38,181.74 536.47,179.43 536.56,179.70 536.65,180.55 536.74,182.23 536.83,180.18 536.92,179.89 537.01,180.75 537.10,182.19 537.19,179.31 537.28,180.87 537.37,182.56 537.46,181.15 537.55,180.94 537.64,182.26 537.73,180.06 537.82,183.70 537.91,182.04 538.00,181.16 538.09,181.73 538.18,181.63 538.27,181.45 538.36,180.49 538.45,181.62 538.54,180.07 538.63,183.50 538.72,180.84 538.81,181.32 538.90,181.32 538.99,183.02 539.08,182.08 539.17,183.90 539.26,181.91 539.35,182.63 539.44,182.45 539.53,182.22 539.62,183.85 539.71,184.03 539.80,184.18 539.89,181.34 539.98,183.27 540.07,181.75 540.16,181.79 540.25,181.15 540.34,182.14 540.43,183.86 540.52,184.77 540.61,185.21 540.70,182.44 540.79,182.81 540.88,183.80 540.97,183.77 541.06,183.91 541.15,181.88 541.24,183.61 541.33,184.50 541.42,184.23 541.51,183.89 541.60,183.31 541.69,184.05 541.78,185.91 541.87,184.81 541.96,185.46 542.05,186.17 542.14,183.32 542.23,185.25 542.32,185.09 542.41,186.06 542.50,184.47 542.59,184.56 542.68,184.16 542.77,185.10 542.86,184.67 542.95,184.86 543.04,185.43 543.13,184.74 543.22,184.22 543.31,184.83 543.40,184.74 543.49,185.81 543.58,186.73 543.67,185.12 543.76,182.97 543.85,186.19 543.94,185.57 544.03,184.70 544.12,185.47 544.21,187.72 544.30,184.28 544.39,184.67 544.48,185.86 544.57,182.73 544.66,185.53 544.75,187.06 544.84,186.65 544.93,186.51 545.02,185.81 545.11,186.03 545.20,189.07 545.29,186.51 545.38,187.69 545.47,185.04 545.56,186.62 545.65,186.76 545.74,186.57 545.83,184.21 545.92,186.03 546.01,187.98 546.10,187.07 546.19,185.73 546.28,187.45 546.37,184.65 546.46,187.19 546.55,186.96 546.64,186.00 546.73,185.61 546.82,184.97 546.91,186.46 547.00,188.47 547.09,187.60 547.18,187.16 547.27,187.70 547.36,186.18 547.45,187.33 547.54,183.85 547.63,186.33 547.72,186.36 547.81,186.79 547.90,186.70 547.99,187.49 548.08,186.28 548.17,187.86 548.26,186.69 548.35,187.83 548.44,187.08 548.53,187.84 548.62,187.46 548.71,186.40 548.80,187.21 548.89,185.73 548.98,187.10 549.07,187.44 549.16,186.80 549.25,186.93 549.34,188.09 549.43,188.32 549.52,188.55 549.61,186.58 549.70,186.73 549.79,187.96 549.88,188.08 549.97,185.38 550.06,189.19 550.15,188.38 550.24,186.00 550.33,188.41 550.42,186.86 550.51,187.16 550.60,186.32 550.69,186.50 550.78,186.94 550.87,187.43 550.96,186.25 551.05,187.30 551.14,186.67 551.23,186.87 551.32,186.52 551.41,186.79 551.50,189.01 551.59,185.83 551.68,186.14 551.77,187.39 551.86,186.97 551.95,186.43 552.04,187.89 552.13,186.34 552.22,187.50 552.31,188.46 552.40,188.08 552.49,187.25 552.58,187.55 552.67,187.72 552.76,188.16 552.85,186.63 552.94,188.84 553.03,188.34 553.12,189.44 553.21,188.44 553.30,188.64 553.39,184.72 553.48,187.21 553.57,189.49 553.66,188.04 553.75,187.22 553.84,188.37 553.93,187.78 554.02,188.09 554.11,187.00 554.20,188.24 554.29,189.22 554.38,187.97 554.47,188.18 554.56,187.07 554.65,188.24 554.74,187.37 554.83,186.45 554.92,187.38 555.01,187.57 555.10,188.36 555.19,188.75 555.28,187.63 555.37,187.48 555.46,188.47 555.55,186.97 555.64,187.53 555.73,187.64 555.82,187.72 555.91,187.31 556.00,189.50 556.09,188.85 556.18,187.76 556.27,186.52 556.36,187.45 556.45,188.53 556.54,186.05 556.63,190.40 556.72,187.91 556.81,187.94 556.90,188.62 556.99,186.62 557.08,188.09 557.17,188.03 557.26,188.74 557.35,187.07 557.44,188.68 557.53,189.24 557.62,188.38 557.71,187.57 557.80,187.28 557.89,186.39 557.98,187.57 558.07,188.63 558.16,189.62 558.25,189.18 558.34,189.35 558.43,187.73 558.52,187.78 558.61,186.72 558.70,187.57 558.79,187.14 558.88,188.01 558.97,188.92 559.06,188.16 559.15,187.97 559.24,188.97 559.33,189.78 559.42,189.38 559.51,186.70 559.60,190.05 559.69,187.94 559.78,186.99 559.87,188.05 559.96,189.38 560.05,185.85 560.14,189.70 560.23,188.66 560.32,189.01 560.41,187.15 560.50,187.96 560.59,187.41 560.68,189.65 560.77,187.78 560.86,188.91 560.95,187.92 561.04,186.97 561.13,189.43 561.22,189.74 561.31,190.06 561.40,188.09 561.49,188.68 561.58,189.32 561.67,188.98 561.76,188.88 561.85,190.94 561.94,188.30 562.03,189.56 562.12,188.21 562.21,190.11 562.30,188.50 562.39,187.82 562.48,189.50 562.57,188.84 562.66,188.44 562.75,188.61 562.84,188.24 562.93,189.34 563.02,189.18 563.11,190.47 563.20,188.23 563.29,190.27 563.38,189.44 563.47,187.57 563.56,190.38 563.65,187.26 563.74,189.46 563.83,187.20 563.92,189.26 564.01,188.66 564.10,188.77 564.19,187.21 564.28,188.32 564.37,190.20 564.46,189.69 564.55,189.05 564.64,189.00 564.73,188.53 564.82,190.54 564.91,189.15 565.00,190.24 565.09,187.80 565.18,187.75 565.27,190.55 565.36,188.43 565.45,189.10 565.54,189.75 565.63,190.19 565.72,189.94 565.81,189.88 565.90,190.91 565.99,189.62 566.08,190.26 566.17,189.45 566.26,189.57 566.35,191.24 566.44,189.21 566.53,187.05 566.62,189.55 566.71,189.67 566.80,191.24 566.89,189.15 566.98,188.43 567.07,189.65 567.16,191.30 567.25,189.23 567.34,190.78 567.43,190.06 567.52,190.20 567.61,188.81 567.70,189.68 567.79,188.85 567.88,189.63 567.97,188.97 568.06,190.69 568.15,189.15 568.24,189.44 568.33,187.56 568.42,188.75 568.51,192.00 568.60,189.33 568.69,188.18 568.78,189.70 568.87,189.51 568.96,189.26 569.05,189.47 569.14,189.32 569.23,190.66 569.32,188.66 569.41,190.01 569.50,190.61 569.59,188.99 569.68,191.98 569.77,189.92 569.86,189.78 569.95,189.37 570.04,190.65 570.13,188.42 570.22,190.48 570.31,192.03 570.40,190.29 570.49,190.78 570.58,189.15 570.67,190.77 570.76,189.33 570.85,189.66 570.94,190.09 571.03,191.90 571.12,189.57 571.21,188.32 571.30,190.28 571.39,190.91 571.48,190.82 571.57,190.43 571.66,191.52 571.75,191.09 571.84,191.06 571.93,189.90 572.02,188.95 572.11,191.84 572.20,189.54 572.29,191.57 572.38,191.48 572.47,189.31 572.56,189.82 572.65,190.83 572.74,191.36 572.83,189.58 572.92,190.21 573.01,189.54 573.10,189.38 573.19,190.61 573.28,190.10 573.37,188.67 573.46,190.94 573.55,190.22 573.64,190.23 573.73,189.37 573.82,191.29 573.91,190.92 574.00,190.93 574.09,190.61 574.18,191.02 574.27,192.18 574.36,190.89 574.45,190.95 574.54,190.33 574.63,191.38 574.72,190.56 574.81,190.13 574.90,191.87 574.99,190.68 575.08,190.05 575.17,190.21 575.26,190.40 575.35,189.91 575.44,192.26 575.53,191.48 575.62,189.70 575.71,192.05 575.80,190.65 575.89,191.25 575.98,190.67 576.07,191.43 576.16,191.41 576.25,191.78 576.34,191.85 576.43,188.75 576.52,190.65 576.61,191.09 576.70,190.94 576.79,189.81 576.88,190.80 576.97,190.99 577.06,189.30 577.15,190.39 577.24,191.86 577.33,190.52 577.42,191.06 577.51,191.24 577.60,191.72 577.69,191.95 577.78,192.27 577.87,191.44 577.96,191.54 578.05,191.26 578.14,191.60 578.23,191.33 578.32,192.15 578.41,192.13 578.50,190.26 578.59,189.47 578.68,191.94 578.77,191.10 578.86,190.19 578.95,192.48 579.04,193.00 579.13,190.62 579.22,190.82 579.31,191.08 579.40,190.99 579.49,191.62 579.58,190.73 579.67,191.76 579.76,191.43 579.85,192.76 579.94,191.74 580.03,192.66 580.12,193.24 580.21,192.38 580.30,192.52 580.39,191.51 580.48,191.98 580.57,194.06 580.66,193.26 580.75,192.08 580.84,191.71 580.93,191.95 581.02,193.09 581.11,190.28 581.20,192.38 581.29,190.99 581.38,193.48 581.47,190.93 581.56,193.07 581.65,192.01 581.74,192.31 581.83,193.81 581.92,192.34 582.01,192.98 582.10,192.74 582.19,191.38 582.28,192.41 582.37,193.35 582.46,192.81 582.55,192.70 582.64,191.90 582.73,193.96 582.82,192.10 582.91,194.24 583.00,192.82 583.09,193.31 583.18,191.43 583.27,192.82 583.36,191.90 583.45,192.85 583.54,193.88 583.63,193.15 583.72,193.08 583.81,193.75 583.90,191.84 583.99,193.03 584.08,192.42 584.17,193.97 584.26,192.39 584.35,194.49 584.44,194.89 584.53,191.21 584.62,192.99 584.71,191.73 584.80,194.28 584.89,192.43 584.98,193.79 585.07,193.54 585.16,192.45 585.25,191.95 585.34,194.33 585.43,192.82 585.52,193.62 585.61,194.67 585.70,193.40 585.79,193.18 585.88,192.57 585.97,193.91 586.06,192.80 586.15,192.05 586.24,193.05 586.33,193.04 586.42,192.17 586.51,193.42 586.60,194.39 586.69,194.20 586.78,195.51 586.87,194.74 586.96,193.99 587.05,191.98 587.14,194.01 587.23,194.92 587.32,193.62 587.41,195.16 587.50,193.09 587.59,194.17 587.68,194.70 587.77,195.49 587.86,193.97 587.95,195.77 588.04,193.74 588.13,192.49 588.22,194.00 588.31,195.35 588.40,193.84 588.49,195.63 588.58,194.01 588.67,195.90 588.76,192.27 588.85,196.30 588.94,192.45 589.03,194.24 589.12,193.26 589.21,194.63 589.30,194.17 589.39,194.12 589.48,194.97 589.57,195.29 589.66,194.16 589.75,195.58 589.84,192.94 589.93,193.56 590.02,193.31 590.11,194.98 590.20,195.39 590.29,194.21 590.38,194.04 590.47,193.56 590.56,195.26 590.65,195.69 590.74,194.20 590.83,194.55 590.92,194.37 591.01,194.73 591.10,195.19 591.19,192.82 591.28,194.33 591.37,195.56 591.46,194.04 591.55,196.00 591.64,196.15 591.73,194.08 591.82,194.23 591.91,196.13 592.00,193.52 592.09,194.06 592.18,193.57 592.27,195.05 592.36,195.37 592.45,195.50 592.54,195.34 592.63,193.86 592.72,196.17 592.81,195.08 592.90,194.80 592.99,196.70 593.08,195.30 593.17,195.52 593.26,195.97 593.35,197.03 593.44,195.24 593.53,195.88 593.62,193.22 593.71,194.44 593.80,197.14 593.89,197.10 593.98,195.21 594.07,194.57 594.16,194.17 594.25,194.33 594.34,194.90 594.43,193.90 594.52,195.34 594.61,195.30 594.70,194.38 594.79,194.33 594.88,194.46 594.97,195.08 595.06,195.33 595.15,196.04 595.24,194.02 595.33,195.26 595.42,195.61 595.51,195.88 595.60,196.37 595.69,195.27 595.78,196.74 595.87,197.68 595.96,196.07 596.05,197.06 596.14,196.57 596.23,196.13 596.32,195.57 596.41,195.99 596.50,197.58 596.59,195.87 596.68,195.14 596.77,195.40 596.86,196.53 596.95,195.31 597.04,196.68 597.13,196.53 597.22,196.11 597.31,197.37 597.40,194.81 597.49,195.48 597.58,195.82 597.67,196.32 597.76,194.82 597.85,195.51 597.94,197.15 598.03,195.68 598.12,196.84 598.21,195.84 598.30,195.41 598.39,196.51 598.48,197.21 598.57,196.05 598.66,194.97 598.75,195.44 598.84,195.73 598.93,195.91 599.02,195.33 599.11,196.75 599.20,195.25 599.29,197.02 599.38,195.28 599.47,195.36 599.56,197.18 599.65,196.84 599.74,195.95 599.83,195.74 599.92,196.07 600.01,196.32 600.10,196.50 600.19,197.20 600.28,195.60 600.37,196.33 600.46,196.39 600.55,195.18 600.64,197.36 600.73,197.81 600.82,196.38 600.91,194.90 601.00,195.71 601.09,197.22 601.18,194.69 601.27,194.73 601.36,196.01 601.45,196.85 601.54,197.17 601.63,197.34 601.72,194.47 601.81,196.00 601.90,195.68 601.99,195.69 602.08,197.19 602.17,196.90 602.26,195.93 602.35,196.76 602.44,196.76 602.53,197.67 602.62,196.15 602.71,197.16 602.80,196.03 602.89,197.02 602.98,196.64 603.07,196.90 603.16,196.70 603.25,197.98 603.34,196.15 603.43,195.98 603.52,196.31 603.61,197.17 603.70,197.40 603.79,196.78 603.88,196.29 603.97,196.52 604.06,196.31 604.15,197.30 604.24,196.89 604.33,197.10 604.42,196.98 604.51,197.00 604.60,197.89 604.69,196.57 604.78,197.32 604.87,197.36 604.96,196.41 605.05,198.33 605.14,197.20 605.23,196.11 605.32,197.81 605.41,197.50 605.50,197.62 605.59,196.90 605.68,196.79 605.77,197.21 605.86,196.01 605.95,197.24 606.04,197.17 606.13,197.84 606.22,196.97 606.31,197.63 606.40,196.03 606.49,196.56 606.58,197.80 606.67,198.35 606.76,197.91 606.85,196.02 606.94,196.40 607.03,196.75 607.12,198.23 607.21,196.78 607.30,197.46 607.39,197.65 607.48,197.66 607.57,197.19 607.66,197.58 607.75,198.00 607.84,197.48 607.93,197.32 608.02,197.99 608.11,198.58 608.20,199.35 608.29,196.51 608.38,197.64 608.47,197.52 608.56,196.58 608.65,197.24 608.74,196.94 608.83,196.71 608.92,197.02 609.01,198.00 609.10,196.71 609.19,197.11 609.28,197.43 609.37,196.77 609.46,196.59 609.55,196.32 609.64,196.99 609.73,198.69 609.82,196.27 609.91,198.27 610.00,196.90 610.09,196.89 610.18,198.25 610.27,198.09 610.36,198.17 610.45,197.68 610.54,198.37 610.63,197.21 610.72,197.99 610.81,198.49 610.90,197.71 610.99,197.09 611.08,199.07 611.17,197.61 611.26,197.03 611.35,198.30 611.44,198.82 611.53,198.28 611.62,196.92 611.71,197.92 611.80,198.13 611.89,198.39 611.98,196.80 612.07,196.94 612.16,198.09 612.25,197.96 612.34,198.32 612.43,198.88 612.52,196.93 612.61,197.12 612.70,197.56 612.79,199.20 612.88,197.88 612.97,198.81 613.06,196.21 613.15,198.25 613.24,198.81 613.33,199.21 613.42,197.57 613.51,199.71 613.60,197.52 613.69,199.31 613.78,199.52 613.87,198.15 613.96,197.19 614.05,199.96 614.14,198.55 614.23,197.34 614.32,198.67 614.41,197.48 614.50,198.44 614.59,197.47 614.68,196.56 614.77,198.87 614.86,197.81 614.95,198.25 615.04,198.45 615.13,198.24 615.22,197.85 615.31,198.69 615.40,198.89 615.49,198.61 615.58,198.18 615.67,198.50 615.76,199.65 615.85,199.44 615.94,198.33 616.03,199.02 616.12,199.02 616.21,199.04 616.30,198.64 616.39,199.01 616.48,198.39 616.57,199.20 616.66,199.09 616.75,199.22 616.84,199.22 616.93,199.15 617.02,198.14 617.11,197.84 617.20,198.87 617.29,198.47 617.38,199.35 617.47,198.30 617.56,198.45 617.65,197.78 617.74,198.73 617.83,198.53 617.92,199.72 618.01,198.91 618.10,199.94 618.19,198.31 618.28,197.68 618.37,199.73 618.46,199.31 618.55,200.14 618.64,198.45 618.73,197.65 618.82,200.19 618.91,199.24 619.00,198.60 619.09,200.69 619.18,199.12 619.27,198.48 619.36,199.41 619.45,198.73 619.54,198.52 619.63,199.47 619.72,199.21 619.81,199.04 619.90,199.12 619.99,198.19 620.08,199.76 620.17,200.68 620.26,199.46 620.35,200.23 620.44,200.77 620.53,199.12 620.62,198.78 620.71,198.58 620.80,198.96 620.89,199.92 620.98,199.23 621.07,200.25 621.16,198.88 621.25,200.62 621.34,199.15 621.43,199.34 621.52,199.46 621.61,199.25 621.70,199.35 621.79,199.89 621.88,199.37 621.97,199.80 622.06,198.88 622.15,198.89 622.24,198.44 622.33,200.04 622.42,198.89 622.51,199.85 622.60,199.61 622.69,199.64 622.78,199.39 622.87,199.99 622.96,199.95 623.05,200.82 623.14,199.44 623.23,199.34 623.32,198.73 623.41,201.26 623.50,199.13 623.59,200.27 623.68,200.25 623.77,198.79 623.86,199.22 623.95,200.25 624.04,199.71 624.13,198.77 624.22,199.83 624.31,200.86 624.40,200.01 624.49,200.17 624.58,200.72 624.67,201.38 624.76,199.81 624.85,199.34 624.94,199.75 625.03,199.46 625.12,198.81 625.21,199.72 625.30,199.13 625.39,200.77 625.48,199.77 625.57,197.93 625.66,199.10 625.75,200.13 625.84,199.43 625.93,199.26 626.02,199.46 626.11,199.25 626.20,200.32 626.29,199.53 626.38,199.21 626.47,200.51 626.56,199.03 626.65,200.07 626.74,199.17 626.83,199.60 626.92,199.56 627.01,199.10 627.10,199.51 627.19,201.03 627.28,199.13 627.37,201.44 627.46,200.59 627.55,201.15 627.64,199.64 627.73,200.81 627.82,200.17 627.91,201.54 628.00,199.73 628.09,200.97 628.18,199.63 628.27,201.11 628.36,199.82 628.45,199.27 628.54,199.10 628.63,199.69 628.72,201.26 628.81,199.16 628.90,199.58 628.99,200.06 629.08,200.18 629.17,200.34 629.26,201.36 629.35,200.03 629.44,199.13 629.53,200.76 629.62,199.91 629.71,200.06 629.80,200.34 629.89,201.43 629.98,201.18 630.07,200.32 630.16,200.03 630.25,200.64 630.34,199.76 630.43,199.03 630.52,199.85 630.61,201.06 630.70,199.86 630.79,199.99 630.88,201.44 630.97,201.46 631.06,201.49 631.15,199.85 631.24,200.79 631.33,201.43 631.42,201.20 631.51,200.18 631.60,200.31 631.69,199.93 631.78,200.10 631.87,200.77 631.96,200.78 632.05,199.88 632.14,201.01 632.23,200.68 632.32,201.49 632.41,200.17 632.50,200.73 632.59,198.95 632.68,201.15 632.77,201.02 632.86,201.23 632.95,200.65 633.04,200.66 633.13,200.60 633.22,201.56 633.31,199.97 633.40,200.61 633.49,201.13 633.58,200.44 633.67,200.05 633.76,200.51 633.85,200.96 633.94,201.88 634.03,200.38 634.12,199.21 634.21,201.50 634.30,200.78 634.39,201.22 634.48,200.72 634.57,200.78 634.66,199.43 634.75,201.22 634.84,200.03 634.93,201.29 635.02,199.46 635.11,201.68 635.20,200.71 635.29,199.19 635.38,200.93 635.47,200.92 635.56,200.94 635.65,200.08 635.74,202.47 635.83,200.53 635.92,201.61 636.01,199.13 636.10,201.35 636.19,201.27 636.28,200.91 636.37,201.81 636.46,200.52 636.55,201.27 636.64,200.92 636.73,201.16 636.82,200.29 636.91,201.45 637.00,201.39 637.09,201.22 637.18,201.24 637.27,200.75 637.36,200.61 637.45,200.89 637.54,201.32 637.63,200.21 637.72,201.01 637.81,202.18 637.90,201.61 637.99,200.45 638.08,201.99 638.17,199.95 638.26,201.00 638.35,201.93 638.44,201.63 638.53,201.42 638.62,200.45 638.71,200.04 638.80,201.56 638.89,201.39 638.98,202.38 639.07,200.81 639.16,200.45 639.25,200.84 639.34,199.95 639.43,200.97 639.52,201.19 639.61,201.11 639.70,202.49 639.79,202.55 639.88,201.02 639.97,200.88 640.06,202.16 640.15,202.03 640.24,200.43 640.33,200.79 640.42,200.76 640.51,200.42 640.60,200.93 640.69,200.46 640.78,201.86 640.87,201.68 640.96,200.16 641.05,200.91 641.14,200.96 641.23,202.35 641.32,200.94 641.41,202.00 641.50,202.53 641.59,200.80 641.68,201.79 641.77,201.50 641.86,202.06 641.95,200.50 642.04,201.21 642.13,200.32 642.22,201.98 642.31,200.12 642.40,201.54 642.49,200.41 642.58,200.99 642.67,200.94 642.76,201.57 642.85,201.90 642.94,202.33 643.03,202.49 643.12,201.57 643.21,200.80 643.30,202.42 643.39,200.72 643.48,201.59 643.57,201.11 643.66,201.17 643.75,201.74 643.84,200.83 643.93,201.55 644.02,201.56 644.11,202.36 644.20,202.42 644.29,202.18 644.38,201.69 644.47,202.85 644.56,202.34 644.65,200.81 644.74,201.90 644.83,202.01 644.92,201.12 645.01,201.88 645.10,201.49 645.19,201.10 645.28,201.77 645.37,201.30 645.46,200.90 645.55,201.75 645.64,200.48 645.73,202.53 645.82,201.52 645.91,201.83 646.00,202.43 646.09,202.42 646.18,201.58 646.27,202.02 646.36,202.46 646.45,202.77 646.54,201.27 646.63,202.02 646.72,201.08 646.81,201.21 646.90,201.77 646.99,201.69 647.08,201.09 647.17,201.22 647.26,201.78 647.35,200.86 647.44,201.95 647.53,201.04 647.62,202.81 647.71,201.98 647.80,202.37 647.89,201.62 647.98,202.62 648.07,202.23 648.16,202.39 648.25,201.97 648.34,202.32 648.43,201.83 648.52,202.33 648.61,201.71 648.70,201.71 648.79,202.04 648.88,202.01 648.97,201.91 649.06,201.42 649.15,201.78 649.24,202.60 649.33,202.06 649.42,202.20 649.51,201.63 649.60,202.93 649.69,201.85 649.78,202.37 649.87,201.99 649.96,202.82 650.05,200.95 650.14,200.63 650.23,201.79 650.32,200.33 650.41,201.49 650.50,201.54 650.59,201.85 650.68,202.47 650.77,201.13 650.86,202.39 650.95,202.89 651.04,203.14 651.13,201.32 651.22,201.83 651.31,203.37 651.40,201.42 651.49,202.87 651.58,202.36 651.67,202.49 651.76,201.01 651.85,201.18 651.94,201.54 652.03,202.56 652.12,202.69 652.21,201.62 652.30,202.36 652.39,202.26 652.48,201.52 652.57,201.43 652.66,200.87 652.75,201.40 652.84,201.61 652.93,202.98 653.02,202.72 653.11,202.03 653.20,202.37 653.29,201.60 653.38,200.61 653.47,202.33 653.56,202.55 653.65,201.65 653.74,202.98 653.83,202.88 653.92,202.73 654.01,200.94 654.10,202.22 654.19,202.62 654.28,201.63 654.37,201.87 654.46,202.78 654.55,203.59 654.64,202.77 654.73,202.40 654.82,201.91 654.91,201.54 655.00,201.70 655.09,202.52 655.18,201.95 655.27,203.17 655.36,201.41 655.45,201.54 655.54,202.27 655.63,202.46 655.72,202.40 655.81,201.62 655.90,201.85 655.99,202.97 656.08,202.11 656.17,202.05 656.26,202.79 656.35,202.64 656.44,202.39 656.53,203.49 656.62,201.51 656.71,202.65 656.80,202.02 656.89,203.06 656.98,201.79 657.07,202.85 657.16,202.17 657.25,204.08 657.34,202.59 657.43,203.87 657.52,202.01 657.61,202.05 657.70,202.68 657.79,201.35 657.88,201.85 657.97,203.43 658.06,203.18 658.15,202.33 658.24,203.20 658.33,202.78 658.42,202.79 658.51,201.87 658.60,203.11 658.69,202.13 658.78,203.46 658.87,201.84 658.96,204.12 659.05,202.08 659.14,201.64 659.23,201.79 659.32,202.77 659.41,202.71 659.50,202.08 659.59,203.02 659.68,203.78 659.77,202.62 659.86,203.04 659.95,203.11 660.04,203.10 660.13,201.45 660.22,203.53 660.31,202.54 660.40,202.67 660.49,203.36 660.58,200.89 660.67,203.11 660.76,202.79 660.85,203.67 660.94,202.85 661.03,203.48 661.12,203.31 661.21,201.86 661.30,202.59 661.39,202.17 661.48,202.59 661.57,202.07 661.66,201.67 661.75,202.55 661.84,202.43 661.93,202.93 662.02,203.68 662.11,202.40 662.20,202.50 662.29,203.41 662.38,203.26 662.47,201.63 662.56,202.62 662.65,201.68 662.74,202.08 662.83,202.31 662.92,202.52 663.01,202.43 663.10,202.74 663.19,202.82 663.28,203.61 663.37,203.12 663.46,201.95 663.55,203.47 663.64,202.82 663.73,201.89 663.82,202.01 663.91,202.66 664.00,202.69 664.09,202.85 664.18,201.68 664.27,202.43 664.36,203.94 664.45,201.56 664.54,201.80 664.63,202.66 664.72,202.82 664.81,202.28 664.90,202.74 664.99,202.58 665.08,202.12 665.17,202.62 665.26,202.45 665.35,202.87 665.44,203.08 665.53,202.10 665.62,202.59 665.71,202.01 665.80,202.44 665.89,202.74 665.98,203.10 666.07,202.18 666.16,203.06 666.25,202.61 666.34,202.51 666.43,202.53 666.52,202.31 666.61,202.90 666.70,201.92 666.79,202.96 666.88,202.36 666.97,203.59 667.06,202.38 667.15,202.89 667.24,203.14 667.33,203.17 667.42,203.66 667.51,203.72 667.60,202.63 667.69,202.45 667.78,203.60 667.87,203.00 667.96,202.68 668.05,202.78 668.14,203.29 668.23,203.26 668.32,201.48 668.41,202.30 668.50,202.45 668.59,202.16 668.68,203.47 668.77,203.53 668.86,202.71 668.95,203.66 669.04,202.62 669.13,203.65 669.22,203.31 669.31,202.98 669.40,203.18 669.49,202.57 669.58,203.56 669.67,202.66 669.76,203.23 669.85,202.41 669.94,202.43 670.03,202.98 670.12,203.00 670.21,203.68 670.30,202.80 670.39,203.12 670.48,203.15 670.57,204.12 670.66,203.01 670.75,202.25 670.84,202.03 670.93,202.66 671.02,202.92 671.11,202.17 671.20,202.16 671.29,202.28 671.38,202.82 671.47,203.19 671.56,202.40 671.65,202.33 671.74,203.57 671.83,203.86 671.92,203.14 672.01,202.47 672.10,202.46 672.19,203.22 672.28,201.78 672.37,201.86 672.46,203.36 672.55,201.94 672.64,202.34 672.73,204.01 672.82,202.51 672.91,203.59 673.00,202.63 673.09,202.16 673.18,203.06 673.27,202.75 673.36,203.31 673.45,201.95 673.54,203.12 673.63,202.96 673.72,203.31 673.81,203.00 673.90,202.27 673.99,203.63 674.08,203.38 674.17,203.40 674.26,203.22 674.35,203.07 674.44,202.53 674.53,201.82 674.62,201.94 674.71,202.76 674.80,201.54 674.89,202.48 674.98,203.34 675.07,202.30 675.16,203.95 675.25,201.87 675.34,203.24 675.43,201.71 675.52,203.04 675.61,203.81 675.70,202.66 675.79,202.12 675.88,202.18 675.97,203.22 676.06,203.34 676.15,203.08 676.24,202.55 676.33,202.21 676.42,202.35 676.51,202.23 676.60,201.91 676.69,203.45 676.78,203.57 676.87,203.59 676.96,203.83 677.05,202.45 677.14,201.76 677.23,202.96 677.32,202.67 677.41,202.18 677.50,203.08 677.59,202.56 677.68,203.21 677.77,203.06 677.86,202.33" fill="none" stroke="#0a0a4a" stroke-width="1.1" stroke-linejoin="round"/>
<line x1="38.40" y1="28.70" x2="38.40" y2="244.90" stroke="#666666" stroke-width="1"/>
<line x1="37.90" y1="244.40" x2="304.60" y2="244.40" stroke="#666666" stroke-width="1"/>
<line x1="34.40" y1="29.20" x2="38.40" y2="29.20" stroke="#666666" stroke-width="1"/>
<text x="31.20" y="32.30" font-size="10.2" fill="#000" text-anchor="end" textLength="13.4" lengthAdjust="spacingAndGlyphs">0.0</text>
<line x1="36.40" y1="43.54" x2="38.40" y2="43.54" stroke="#666666" stroke-width="1"/>
<line x1="34.40" y1="57.87" x2="38.40" y2="57.87" stroke="#666666" stroke-width="1"/>
<text x="31.20" y="60.97" font-size="10.2" fill="#000" text-anchor="end" textLength="13.4" lengthAdjust="spacingAndGlyphs">0.1</text>
<line x1="36.40" y1="72.21" x2="38.40" y2="72.21" stroke="#666666" stroke-width="1"/>
<line x1="34.40" y1="86.54" x2="38.40" y2="86.54" stroke="#666666" stroke-width="1"/>
<text x="31.20" y="89.64" font-size="10.2" fill="#000" text-anchor="end" textLength="13.4" lengthAdjust="spacingAndGlyphs">0.2</text>
<line x1="36.40" y1="100.88" x2="38.40" y2="100.88" stroke="#666666" stroke-width="1"/>
<line x1="34.40" y1="115.21" x2="38.40" y2="115.21" stroke="#666666" stroke-width="1"/>
<text x="31.20" y="118.31" font-size="10.2" fill="#000" text-anchor="end" textLength="13.4" lengthAdjust="spacingAndGlyphs">0.3</text>
<line x1="36.40" y1="129.55" x2="38.40" y2="129.55" stroke="#666666" stroke-width="1"/>
<line x1="34.40" y1="143.89" x2="38.40" y2="143.89" stroke="#666666" stroke-width="1"/>
<text x="31.20" y="146.99" font-size="10.2" fill="#000" text-anchor="end" textLength="13.4" lengthAdjust="spacingAndGlyphs">0.4</text>
<line x1="36.40" y1="158.22" x2="38.40" y2="158.22" stroke="#666666" stroke-width="1"/>
<line x1="34.40" y1="172.56" x2="38.40" y2="172.56" stroke="#666666" stroke-width="1"/>
<text x="31.20" y="175.66" font-size="10.2" fill="#000" text-anchor="end" textLength="13.4" lengthAdjust="spacingAndGlyphs">0.5</text>
<line x1="36.40" y1="186.89" x2="38.40" y2="186.89" stroke="#666666" stroke-width="1"/>
<line x1="34.40" y1="201.23" x2="38.40" y2="201.23" stroke="#666666" stroke-width="1"/>
<text x="31.20" y="204.33" font-size="10.2" fill="#000" text-anchor="end" textLength="13.4" lengthAdjust="spacingAndGlyphs">0.6</text>
<line x1="36.40" y1="215.56" x2="38.40" y2="215.56" stroke="#666666" stroke-width="1"/>
<line x1="34.40" y1="229.90" x2="38.40" y2="229.90" stroke="#666666" stroke-width="1"/>
<text x="31.20" y="233.00" font-size="10.2" fill="#000" text-anchor="end" textLength="13.4" lengthAdjust="spacingAndGlyphs">0.7</text>
<line x1="36.40" y1="244.24" x2="38.40" y2="244.24" stroke="#666666" stroke-width="1"/>
<line x1="38.00" y1="244.40" x2="38.00" y2="248.20" stroke="#666666" stroke-width="1"/>
<text x="37.30" y="259.70" font-size="10.1" fill="#000" text-anchor="middle" textLength="22.2" lengthAdjust="spacingAndGlyphs">4000</text>
<line x1="53.16" y1="244.40" x2="53.16" y2="246.40" stroke="#666666" stroke-width="1"/>
<line x1="68.33" y1="244.40" x2="68.33" y2="248.20" stroke="#666666" stroke-width="1"/>
<text x="67.62" y="259.70" font-size="10.1" fill="#000" text-anchor="middle" textLength="22.2" lengthAdjust="spacingAndGlyphs">3600</text>
<line x1="83.49" y1="244.40" x2="83.49" y2="246.40" stroke="#666666" stroke-width="1"/>
<line x1="98.65" y1="244.40" x2="98.65" y2="248.20" stroke="#666666" stroke-width="1"/>
<text x="97.95" y="259.70" font-size="10.1" fill="#000" text-anchor="middle" textLength="22.2" lengthAdjust="spacingAndGlyphs">3200</text>
<line x1="113.81" y1="244.40" x2="113.81" y2="246.40" stroke="#666666" stroke-width="1"/>
<line x1="128.98" y1="244.40" x2="128.98" y2="248.20" stroke="#666666" stroke-width="1"/>
<text x="128.28" y="259.70" font-size="10.1" fill="#000" text-anchor="middle" textLength="22.2" lengthAdjust="spacingAndGlyphs">2800</text>
<line x1="144.14" y1="244.40" x2="144.14" y2="246.40" stroke="#666666" stroke-width="1"/>
<line x1="159.30" y1="244.40" x2="159.30" y2="248.20" stroke="#666666" stroke-width="1"/>
<text x="158.60" y="259.70" font-size="10.1" fill="#000" text-anchor="middle" textLength="22.2" lengthAdjust="spacingAndGlyphs">2400</text>
<line x1="174.46" y1="244.40" x2="174.46" y2="246.40" stroke="#666666" stroke-width="1"/>
<line x1="189.62" y1="244.40" x2="189.62" y2="248.20" stroke="#666666" stroke-width="1"/>
<text x="188.93" y="259.70" font-size="10.1" fill="#000" text-anchor="middle" textLength="22.2" lengthAdjust="spacingAndGlyphs">2000</text>
<line x1="204.79" y1="244.40" x2="204.79" y2="246.40" stroke="#666666" stroke-width="1"/>
<line x1="219.95" y1="244.40" x2="219.95" y2="248.20" stroke="#666666" stroke-width="1"/>
<text x="219.25" y="259.70" font-size="10.1" fill="#000" text-anchor="middle" textLength="22.2" lengthAdjust="spacingAndGlyphs">1600</text>
<line x1="235.11" y1="244.40" x2="235.11" y2="246.40" stroke="#666666" stroke-width="1"/>
<line x1="250.28" y1="244.40" x2="250.28" y2="248.20" stroke="#666666" stroke-width="1"/>
<text x="249.58" y="259.70" font-size="10.1" fill="#000" text-anchor="middle" textLength="22.2" lengthAdjust="spacingAndGlyphs">1200</text>
<line x1="265.44" y1="244.40" x2="265.44" y2="246.40" stroke="#666666" stroke-width="1"/>
<line x1="280.60" y1="244.40" x2="280.60" y2="248.20" stroke="#666666" stroke-width="1"/>
<text x="279.90" y="259.70" font-size="10.1" fill="#000" text-anchor="middle" textLength="16.5" lengthAdjust="spacingAndGlyphs">800</text>
<line x1="295.76" y1="244.40" x2="295.76" y2="246.40" stroke="#666666" stroke-width="1"/>
<line x1="421.00" y1="26.50" x2="421.00" y2="229.80" stroke="#4a4a4a" stroke-width="1"/>
<line x1="419.50" y1="229.30" x2="679.00" y2="229.30" stroke="#4a4a4a" stroke-width="1"/>
<line x1="417.00" y1="27.00" x2="421.00" y2="27.00" stroke="#4a4a4a" stroke-width="1"/>
<text x="413.90" y="29.70" font-size="7.6" fill="#000" text-anchor="end" textLength="16.5" lengthAdjust="spacingAndGlyphs">2500</text>
<line x1="419.00" y1="45.44" x2="421.00" y2="45.44" stroke="#4a4a4a" stroke-width="1"/>
<line x1="417.00" y1="63.88" x2="421.00" y2="63.88" stroke="#4a4a4a" stroke-width="1"/>
<text x="413.90" y="66.58" font-size="7.6" fill="#000" text-anchor="end" textLength="16.5" lengthAdjust="spacingAndGlyphs">2000</text>
<line x1="419.00" y1="82.32" x2="421.00" y2="82.32" stroke="#4a4a4a" stroke-width="1"/>
<line x1="417.00" y1="100.76" x2="421.00" y2="100.76" stroke="#4a4a4a" stroke-width="1"/>
<text x="413.90" y="103.46" font-size="7.6" fill="#000" text-anchor="end" textLength="16.5" lengthAdjust="spacingAndGlyphs">1500</text>
<line x1="419.00" y1="119.20" x2="421.00" y2="119.20" stroke="#4a4a4a" stroke-width="1"/>
<line x1="417.00" y1="137.64" x2="421.00" y2="137.64" stroke="#4a4a4a" stroke-width="1"/>
<text x="413.90" y="140.34" font-size="7.6" fill="#000" text-anchor="end" textLength="16.5" lengthAdjust="spacingAndGlyphs">1000</text>
<line x1="419.00" y1="156.08" x2="421.00" y2="156.08" stroke="#4a4a4a" stroke-width="1"/>
<line x1="417.00" y1="174.52" x2="421.00" y2="174.52" stroke="#4a4a4a" stroke-width="1"/>
<text x="413.90" y="177.22" font-size="7.6" fill="#000" text-anchor="end" textLength="12.2" lengthAdjust="spacingAndGlyphs">500</text>
<line x1="419.00" y1="192.96" x2="421.00" y2="192.96" stroke="#4a4a4a" stroke-width="1"/>
<line x1="417.00" y1="211.40" x2="421.00" y2="211.40" stroke="#4a4a4a" stroke-width="1"/>
<text x="413.90" y="214.10" font-size="7.6" fill="#000" text-anchor="end" textLength="4.2" lengthAdjust="spacingAndGlyphs">0</text>
<line x1="444.40" y1="229.30" x2="444.40" y2="233.30" stroke="#4a4a4a" stroke-width="1"/>
<text x="444.60" y="246.00" font-size="10.5" fill="#000" text-anchor="middle" textLength="12.0" lengthAdjust="spacingAndGlyphs">10</text>
<line x1="483.40" y1="229.30" x2="483.40" y2="233.30" stroke="#4a4a4a" stroke-width="1"/>
<text x="483.60" y="246.00" font-size="10.5" fill="#000" text-anchor="middle" textLength="12.0" lengthAdjust="spacingAndGlyphs">20</text>
<line x1="522.40" y1="229.30" x2="522.40" y2="233.30" stroke="#4a4a4a" stroke-width="1"/>
<text x="522.60" y="246.00" font-size="10.5" fill="#000" text-anchor="middle" textLength="12.0" lengthAdjust="spacingAndGlyphs">30</text>
<line x1="561.40" y1="229.30" x2="561.40" y2="233.30" stroke="#4a4a4a" stroke-width="1"/>
<text x="561.60" y="246.00" font-size="10.5" fill="#000" text-anchor="middle" textLength="12.0" lengthAdjust="spacingAndGlyphs">40</text>
<line x1="600.40" y1="229.30" x2="600.40" y2="233.30" stroke="#4a4a4a" stroke-width="1"/>
<text x="600.60" y="246.00" font-size="10.5" fill="#000" text-anchor="middle" textLength="12.0" lengthAdjust="spacingAndGlyphs">50</text>
<line x1="639.40" y1="229.30" x2="639.40" y2="233.30" stroke="#4a4a4a" stroke-width="1"/>
<text x="639.60" y="246.00" font-size="10.5" fill="#000" text-anchor="middle" textLength="12.0" lengthAdjust="spacingAndGlyphs">60</text>
<line x1="678.40" y1="229.30" x2="678.40" y2="233.30" stroke="#4a4a4a" stroke-width="1"/>
<text x="678.60" y="246.00" font-size="10.5" fill="#000" text-anchor="middle" textLength="12.0" lengthAdjust="spacingAndGlyphs">70</text>
<line x1="424.90" y1="229.30" x2="424.90" y2="231.30" stroke="#4a4a4a" stroke-width="1"/>
<line x1="463.90" y1="229.30" x2="463.90" y2="231.30" stroke="#4a4a4a" stroke-width="1"/>
<line x1="502.90" y1="229.30" x2="502.90" y2="231.30" stroke="#4a4a4a" stroke-width="1"/>
<line x1="541.90" y1="229.30" x2="541.90" y2="231.30" stroke="#4a4a4a" stroke-width="1"/>
<line x1="580.90" y1="229.30" x2="580.90" y2="231.30" stroke="#4a4a4a" stroke-width="1"/>
<line x1="619.90" y1="229.30" x2="619.90" y2="231.30" stroke="#4a4a4a" stroke-width="1"/>
<line x1="658.90" y1="229.30" x2="658.90" y2="231.30" stroke="#4a4a4a" stroke-width="1"/>
<text x="106.40" y="278.90" font-size="10.4" fill="#000" text-anchor="start" textLength="99.3" lengthAdjust="spacingAndGlyphs">Wavenumber (cm<tspan dy="-3.6" font-size="10.3">-1</tspan><tspan dy="3.6">)</tspan></text>
<text x="495.90" y="264.20" font-size="10.8" fill="#000" text-anchor="start" textLength="105.3" lengthAdjust="spacingAndGlyphs">Diffraction angle (°)</text>
<text x="0.80" y="254.80" font-size="9.5" fill="#000" text-anchor="start" textLength="12.8" lengthAdjust="spacingAndGlyphs">(A)</text>
<text x="394.00" y="255.50" font-size="10.6" fill="#000" text-anchor="start" textLength="13.3" lengthAdjust="spacingAndGlyphs">(B)</text>
<text transform="translate(8.0,166.8) rotate(-90)" font-size="9.4" textLength="71.3" lengthAdjust="spacingAndGlyphs">Intensity (a.u.)</text>
<text transform="translate(392.1,168.4) rotate(-90)" font-size="11.6" textLength="78.8" lengthAdjust="spacingAndGlyphs">Intensity (a.u.)</text>
<rect x="135.4" y="0.3" width="192.9" height="29.2" fill="#fff" stroke="#b0b0b0" stroke-width="1"/>
<line x1="136.20" y1="7.70" x2="160.80" y2="7.70" stroke="#0808d2" stroke-width="1.4"/>
<line x1="136.20" y1="22.20" x2="160.80" y2="22.20" stroke="#0a0a4a" stroke-width="1.4"/>
<text x="163.60" y="11.70" font-size="10.7" fill="#0000f0" text-anchor="start" textLength="162.5" lengthAdjust="spacingAndGlyphs">Microwave assisted pyrodextrin</text>
<text x="163.60" y="25.80" font-size="10.7" fill="#000" text-anchor="start" textLength="135.5" lengthAdjust="spacingAndGlyphs">Native sweet potato starch</text>
<rect x="445.5" y="10.6" width="218.3" height="36.8" fill="#fff" stroke="#8a8a8a" stroke-width="1"/>
<line x1="446.20" y1="20.40" x2="480.10" y2="20.40" stroke="#0808d2" stroke-width="2.7"/>
<line x1="446.20" y1="38.20" x2="480.10" y2="38.20" stroke="#0a0a4a" stroke-width="2.7"/>
<text x="483.40" y="24.80" font-size="10.8" fill="#0000f0" text-anchor="start" textLength="174.1" lengthAdjust="spacingAndGlyphs">Microwave assisted Pyrodextrin</text>
<text x="483.40" y="42.60" font-size="10.8" fill="#000" text-anchor="start" textLength="146.8" lengthAdjust="spacingAndGlyphs">Native sweet potato starch</text>
</svg>
</body></html>
